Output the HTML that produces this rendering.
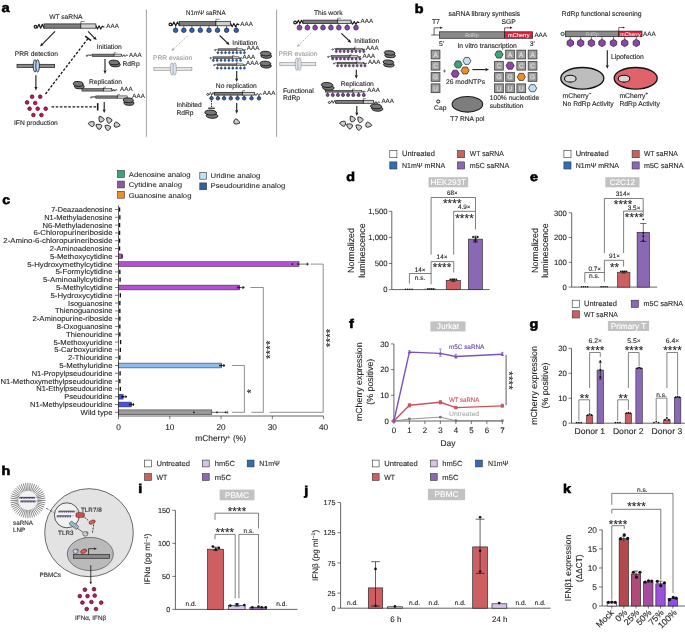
<!DOCTYPE html>
<html><head><meta charset="utf-8"><title>Figure</title>
<style>
html,body{margin:0;padding:0;background:#fff;}
svg{display:block;font-family:"Liberation Sans",sans-serif;text-rendering:geometricPrecision;}
</style></head><body>
<svg width="685" height="633" viewBox="0 0 685 633">
<rect width="685" height="633" fill="#ffffff"/>
<text transform="translate(1.50 12.30) scale(1.14 1)" font-size="13" font-weight="bold" fill="#000" stroke="#000" stroke-width="0.5">a</text>
<line x1="146.40" y1="9.50" x2="146.40" y2="136.80" stroke="#8a8a8a" stroke-width="0.8"/>
<line x1="276.60" y1="9.50" x2="276.60" y2="136.80" stroke="#8a8a8a" stroke-width="0.8"/>
<text x="65.80" y="18.60" font-size="6.7" text-anchor="middle" fill="#262626" stroke="#262626" stroke-width="0.11">WT saRNA</text>
<circle cx="35.50" cy="26.75" r="1.35" fill="#fff" stroke="#1a1a1a" stroke-width="1.15"/>
<path d="M37.25,27.90 L38.94,24.24 L40.62,28.20 L42.31,24.24 L44.00,27.90" fill="none" stroke="#1a1a1a" stroke-width="1.15" stroke-linejoin="round" stroke-linecap="round"/>
<path d="M95.90,25.65 L97.50,29.09 L99.10,25.82 L100.70,29.09 L102.30,26.17 L103.90,27.03" fill="none" stroke="#1a1a1a" stroke-width="1.15" stroke-linejoin="round" stroke-linecap="round"/>
<rect x="44.00" y="23.90" width="36.80" height="4.30" fill="#7d7d7d" stroke="#1a1a1a" stroke-width="0.7"/>
<rect x="80.80" y="23.90" width="15.10" height="4.30" fill="#cfcfcf" stroke="#1a1a1a" stroke-width="0.7"/>
<path d="M80.80,23.90 V21.53 H84.67" fill="none" stroke="#1a1a1a" stroke-width="0.5"/>
<text x="106.20" y="27.90" font-size="6.2" fill="#262626" stroke="#262626" stroke-width="0.11" letter-spacing="0.1">AAA</text>
<line x1="55.00" y1="31.40" x2="42.47" y2="44.02" stroke="#1a1a1a" stroke-width="1.1"/>
<polygon points="40.00,46.50 41.37,42.93 43.56,45.10" fill="#1a1a1a"/>
<line x1="88.00" y1="31.40" x2="94.21" y2="37.54" stroke="#1a1a1a" stroke-width="1.1"/>
<polygon points="96.70,40.00 93.13,38.63 95.29,36.44" fill="#1a1a1a"/>
<text x="36.40" y="55.90" font-size="6.7" text-anchor="middle" fill="#262626" stroke="#262626" stroke-width="0.11">PRR detection</text>
<rect x="17.00" y="64.30" width="37.70" height="3.10" fill="#8a8a8a" stroke="#1a1a1a" stroke-width="0.7"/>
<ellipse cx="35.00" cy="65.85" rx="1.8" ry="6.2" fill="#b5d4ee" stroke="#1a1a1a" stroke-width="0.8"/>
<ellipse cx="37.60" cy="65.85" rx="1.8" ry="6.2" fill="#b5d4ee" stroke="#1a1a1a" stroke-width="0.8"/>
<line x1="35.90" y1="75.30" x2="35.90" y2="87.10" stroke="#1a1a1a" stroke-width="1.1"/>
<polygon points="35.90,90.60 34.36,87.10 37.44,87.10" fill="#1a1a1a"/>
<circle cx="32.10" cy="96.70" r="1.85" fill="#c2185b" stroke="#4a0a24" stroke-width="0.7"/>
<circle cx="40.20" cy="96.70" r="1.85" fill="#c2185b" stroke="#4a0a24" stroke-width="0.7"/>
<circle cx="27.10" cy="102.40" r="1.85" fill="#c2185b" stroke="#4a0a24" stroke-width="0.7"/>
<circle cx="35.20" cy="103.00" r="1.85" fill="#c2185b" stroke="#4a0a24" stroke-width="0.7"/>
<circle cx="29.60" cy="108.70" r="1.85" fill="#c2185b" stroke="#4a0a24" stroke-width="0.7"/>
<circle cx="37.70" cy="108.70" r="1.85" fill="#c2185b" stroke="#4a0a24" stroke-width="0.7"/>
<circle cx="45.70" cy="108.70" r="1.85" fill="#c2185b" stroke="#4a0a24" stroke-width="0.7"/>
<circle cx="33.40" cy="115.00" r="1.85" fill="#c2185b" stroke="#4a0a24" stroke-width="0.7"/>
<circle cx="41.40" cy="115.00" r="1.85" fill="#c2185b" stroke="#4a0a24" stroke-width="0.7"/>
<text x="35.90" y="124.90" font-size="6.7" text-anchor="middle" fill="#262626" stroke="#262626" stroke-width="0.11">IFN production</text>
<line x1="45.50" y1="94.00" x2="88.10" y2="38.40" stroke="#1a1a1a" stroke-width="1.3" stroke-dasharray="2.6 1.6"/>
<line x1="91.04" y1="40.65" x2="85.16" y2="36.15" stroke="#1a1a1a" stroke-width="1.6"/>
<line x1="51.50" y1="106.80" x2="97.70" y2="106.80" stroke="#1a1a1a" stroke-width="1.3" stroke-dasharray="2.6 1.6"/>
<line x1="97.70" y1="110.50" x2="97.70" y2="103.10" stroke="#1a1a1a" stroke-width="1.6"/>
<text x="109.20" y="48.80" font-size="6.7" text-anchor="middle" fill="#262626" stroke="#262626" stroke-width="0.11">Initiation</text>
<circle cx="86.90" cy="55.70" r="0.7" fill="#fff" stroke="#1a1a1a" stroke-width="0.65"/>
<path d="M87.80,55.80 L88.90,54.50 L90.00,56.00 L91.10,54.50 L92.20,55.80" fill="none" stroke="#1a1a1a" stroke-width="0.7" stroke-linejoin="round" stroke-linecap="round"/>
<rect x="92.20" y="54.10" width="21.90" height="2.50" fill="#7d7d7d" stroke="#1a1a1a" stroke-width="0.55"/>
<rect x="114.10" y="54.10" width="7.30" height="2.50" fill="#cfcfcf" stroke="#1a1a1a" stroke-width="0.55"/>
<path d="M114.1,54.1 V52.7 H116.3" fill="none" stroke="#1a1a1a" stroke-width="0.45"/>
<path d="M121.40,54.60 L122.62,56.60 L123.84,54.70 L125.06,56.60 L126.28,54.90 L127.50,55.40" fill="none" stroke="#1a1a1a" stroke-width="0.75" stroke-linejoin="round" stroke-linecap="round"/>
<text x="129.00" y="56.90" font-size="6.2" fill="#262626" stroke="#262626" stroke-width="0.11" letter-spacing="0.1">AAA</text>
<line x1="105.00" y1="59.00" x2="105.00" y2="70.50" stroke="#1a1a1a" stroke-width="1.1"/>
<polygon points="105.00,74.00 103.46,70.50 106.54,70.50" fill="#1a1a1a"/>
<ellipse cx="115.10" cy="64.50" rx="5.1" ry="2.3" fill="#777777" stroke="#151515" stroke-width="0.9" transform="rotate(3 115.10 64.50)"/>
<ellipse cx="114.10" cy="62.50" rx="5.1" ry="2.3" fill="#777777" stroke="#151515" stroke-width="0.9" transform="rotate(3 114.10 62.50)"/>
<text x="122.50" y="66.40" font-size="6.7" fill="#262626" stroke="#262626" stroke-width="0.11">RdRp</text>
<text x="105.50" y="84.00" font-size="6.7" text-anchor="middle" fill="#262626" stroke="#262626" stroke-width="0.11">Replication</text>
<rect x="81.90" y="88.60" width="21.90" height="2.50" fill="#7d7d7d" stroke="#1a1a1a" stroke-width="0.55"/>
<rect x="103.80" y="88.60" width="8.00" height="2.50" fill="#cfcfcf" stroke="#1a1a1a" stroke-width="0.55"/>
<path d="M103.8,88.6 V87.2 H106" fill="none" stroke="#1a1a1a" stroke-width="0.45"/>
<path d="M111.80,89.20 L112.82,91.20 L113.84,89.30 L114.86,91.20 L115.88,89.50 L116.90,90.00" fill="none" stroke="#1a1a1a" stroke-width="0.75" stroke-linejoin="round" stroke-linecap="round"/>
<text x="120.10" y="90.90" font-size="6.2" fill="#262626" stroke="#262626" stroke-width="0.11" letter-spacing="0.1">AAA</text>
<ellipse cx="79.30" cy="86.40" rx="4.9" ry="2.4" fill="#777777" stroke="#151515" stroke-width="0.9" transform="rotate(3 79.30 86.40)"/>
<ellipse cx="78.20" cy="83.90" rx="4.9" ry="2.4" fill="#777777" stroke="#151515" stroke-width="0.9" transform="rotate(3 78.20 83.90)"/>
<circle cx="91.20" cy="97.40" r="0.7" fill="#fff" stroke="#1a1a1a" stroke-width="0.65"/>
<path d="M92.10,97.50 L93.02,96.20 L93.95,97.70 L94.88,96.20 L95.80,97.50" fill="none" stroke="#1a1a1a" stroke-width="0.7" stroke-linejoin="round" stroke-linecap="round"/>
<rect x="95.80" y="95.90" width="21.90" height="2.30" fill="#7d7d7d" stroke="#1a1a1a" stroke-width="0.55"/>
<rect x="117.70" y="95.90" width="9.50" height="2.30" fill="#cfcfcf" stroke="#1a1a1a" stroke-width="0.55"/>
<path d="M117.7,95.9 V94.5 H119.9" fill="none" stroke="#1a1a1a" stroke-width="0.45"/>
<text x="132.30" y="98.20" font-size="6.2" fill="#262626" stroke="#262626" stroke-width="0.11" letter-spacing="0.1">AAA</text>
<ellipse cx="128.90" cy="102.90" rx="5.0" ry="2.4" fill="#777777" stroke="#151515" stroke-width="0.9" transform="rotate(3 128.90 102.90)"/>
<ellipse cx="128.30" cy="100.30" rx="5.0" ry="2.4" fill="#777777" stroke="#151515" stroke-width="0.9" transform="rotate(3 128.30 100.30)"/>
<line x1="104.20" y1="102.00" x2="104.20" y2="109.60" stroke="#1a1a1a" stroke-width="1.1"/>
<polygon points="104.20,113.10 102.66,109.60 105.74,109.60" fill="#1a1a1a"/>
<path d="M-2.57,1.16 Q-4.68,0.00 -2.57,-1.16 L-1.17,-1.93 Q2.34,-3.86 2.34,0.00 L2.34,0.00 Q2.34,3.86 -1.17,1.93 Z" transform="translate(91.80 123.90) rotate(10)" fill="#cdcdcd" stroke="#1a1a1a" stroke-width="0.85" stroke-linejoin="round"/>
<path d="M-2.57,1.16 Q-4.68,0.00 -2.57,-1.16 L-1.17,-1.93 Q2.34,-3.86 2.34,0.00 L2.34,0.00 Q2.34,3.86 -1.17,1.93 Z" transform="translate(101.30 119.50) rotate(60)" fill="#cdcdcd" stroke="#1a1a1a" stroke-width="0.85" stroke-linejoin="round"/>
<path d="M-2.57,1.16 Q-4.68,0.00 -2.57,-1.16 L-1.17,-1.93 Q2.34,-3.86 2.34,0.00 L2.34,0.00 Q2.34,3.86 -1.17,1.93 Z" transform="translate(109.20 120.40) rotate(50)" fill="#cdcdcd" stroke="#1a1a1a" stroke-width="0.85" stroke-linejoin="round"/>
<path d="M-2.57,1.16 Q-4.68,0.00 -2.57,-1.16 L-1.17,-1.93 Q2.34,-3.86 2.34,0.00 L2.34,0.00 Q2.34,3.86 -1.17,1.93 Z" transform="translate(99.10 126.60) rotate(30)" fill="#cdcdcd" stroke="#1a1a1a" stroke-width="0.85" stroke-linejoin="round"/>
<path d="M-2.57,1.16 Q-4.68,0.00 -2.57,-1.16 L-1.17,-1.93 Q2.34,-3.86 2.34,0.00 L2.34,0.00 Q2.34,3.86 -1.17,1.93 Z" transform="translate(107.90 127.70) rotate(40)" fill="#cdcdcd" stroke="#1a1a1a" stroke-width="0.85" stroke-linejoin="round"/>
<path d="M-2.57,1.16 Q-4.68,0.00 -2.57,-1.16 L-1.17,-1.93 Q2.34,-3.86 2.34,0.00 L2.34,0.00 Q2.34,3.86 -1.17,1.93 Z" transform="translate(116.60 124.80) rotate(190)" fill="#cdcdcd" stroke="#1a1a1a" stroke-width="0.85" stroke-linejoin="round"/>
<text x="205.80" y="14.80" font-size="6.7" text-anchor="middle" fill="#262626" stroke="#262626" stroke-width="0.11" textLength="39.6" lengthAdjust="spacingAndGlyphs">N1mΨ saRNA</text>
<circle cx="170.40" cy="24.40" r="1.35" fill="#fff" stroke="#1a1a1a" stroke-width="1.15"/>
<path d="M172.15,25.50 L173.94,21.93 L175.73,25.80 L177.51,21.93 L179.30,25.50" fill="none" stroke="#1a1a1a" stroke-width="1.15" stroke-linejoin="round" stroke-linecap="round"/>
<path d="M230.50,23.30 L232.18,26.66 L233.86,23.47 L235.54,26.66 L237.22,23.80 L238.90,24.64" fill="none" stroke="#1a1a1a" stroke-width="1.15" stroke-linejoin="round" stroke-linecap="round"/>
<rect x="179.30" y="21.60" width="36.60" height="4.20" fill="#7d7d7d" stroke="#1a1a1a" stroke-width="0.7"/>
<rect x="215.90" y="21.60" width="14.60" height="4.20" fill="#cfcfcf" stroke="#1a1a1a" stroke-width="0.7"/>
<path d="M215.90,21.60 V19.29 H219.68" fill="none" stroke="#1a1a1a" stroke-width="0.5"/>
<text x="240.20" y="25.50" font-size="6.2" fill="#262626" stroke="#262626" stroke-width="0.11" letter-spacing="0.1">AAA</text>
<line x1="175.60" y1="25.80" x2="175.60" y2="30.30" stroke="#151515" stroke-width="0.6"/>
<circle cx="175.60" cy="30.30" r="2.3" fill="#2a63b2" stroke="#151515" stroke-width="0.6"/>
<line x1="183.80" y1="25.80" x2="183.80" y2="30.30" stroke="#151515" stroke-width="0.6"/>
<circle cx="183.80" cy="30.30" r="2.3" fill="#2a63b2" stroke="#151515" stroke-width="0.6"/>
<line x1="191.90" y1="25.80" x2="191.90" y2="30.30" stroke="#151515" stroke-width="0.6"/>
<circle cx="191.90" cy="30.30" r="2.3" fill="#2a63b2" stroke="#151515" stroke-width="0.6"/>
<line x1="200.30" y1="25.80" x2="200.30" y2="30.30" stroke="#151515" stroke-width="0.6"/>
<circle cx="200.30" cy="30.30" r="2.3" fill="#2a63b2" stroke="#151515" stroke-width="0.6"/>
<line x1="209.00" y1="25.80" x2="209.00" y2="30.30" stroke="#151515" stroke-width="0.6"/>
<circle cx="209.00" cy="30.30" r="2.3" fill="#2a63b2" stroke="#151515" stroke-width="0.6"/>
<line x1="217.50" y1="25.80" x2="217.50" y2="30.30" stroke="#151515" stroke-width="0.6"/>
<circle cx="217.50" cy="30.30" r="2.3" fill="#2a63b2" stroke="#151515" stroke-width="0.6"/>
<line x1="226.60" y1="25.80" x2="226.60" y2="30.30" stroke="#151515" stroke-width="0.6"/>
<circle cx="226.60" cy="30.30" r="2.3" fill="#2a63b2" stroke="#151515" stroke-width="0.6"/>
<line x1="236.30" y1="25.80" x2="236.30" y2="30.30" stroke="#151515" stroke-width="0.6"/>
<circle cx="236.30" cy="30.30" r="2.3" fill="#2a63b2" stroke="#151515" stroke-width="0.6"/>
<line x1="187.70" y1="35.80" x2="173.75" y2="48.73" stroke="#adadad" stroke-width="0.85" stroke-dasharray="2 1.4"/>
<polygon points="171.40,50.90 172.79,47.69 174.70,49.76" fill="#adadad"/>
<text x="172.60" y="59.80" font-size="6.7" text-anchor="middle" fill="#9c9c9c" stroke="#9c9c9c" stroke-width="0.1">PRR evasion</text>
<rect x="153.80" y="67.60" width="38.10" height="2.70" fill="#e6e6e6" stroke="#9a9a9a" stroke-width="0.7"/>
<ellipse cx="172.00" cy="68.95" rx="1.7" ry="6.3" fill="#dde5ee" stroke="#9a9a9a" stroke-width="0.7"/>
<ellipse cx="174.70" cy="68.95" rx="1.7" ry="6.3" fill="#dde5ee" stroke="#9a9a9a" stroke-width="0.7"/>
<line x1="219.60" y1="35.50" x2="227.08" y2="42.68" stroke="#1a1a1a" stroke-width="1.1"/>
<polygon points="229.60,45.10 226.01,43.79 228.14,41.57" fill="#1a1a1a"/>
<text x="244.80" y="45.10" font-size="6.7" text-anchor="middle" fill="#262626" stroke="#262626" stroke-width="0.11">Initiation</text>
<circle cx="215.20" cy="50.00" r="0.65" fill="#fff" stroke="#1a1a1a" stroke-width="0.6"/>
<path d="M215.90,50.10 L217.15,49.10 L218.40,50.10" fill="none" stroke="#1a1a1a" stroke-width="0.6" stroke-linejoin="round" stroke-linecap="round"/>
<path d="M242.60,49.30 L243.20,50.80 L243.80,49.38 L244.40,50.80 L245.00,49.52 L245.60,49.90" fill="none" stroke="#1a1a1a" stroke-width="0.65" stroke-linejoin="round" stroke-linecap="round"/>
<rect x="218.40" y="48.80" width="17.90" height="1.60" fill="#7d7d7d" stroke="#1a1a1a" stroke-width="0.5"/>
<rect x="236.30" y="48.80" width="6.30" height="1.60" fill="#cfcfcf" stroke="#1a1a1a" stroke-width="0.5"/>
<path d="M236.30,48.80 V47.60 H238.10" fill="none" stroke="#1a1a1a" stroke-width="0.4"/>
<line x1="217.90" y1="50.40" x2="217.90" y2="52.70" stroke="#1a1a1a" stroke-width="0.4"/>
<circle cx="217.90" cy="52.70" r="1.05" fill="#2a63b2" stroke="#151515" stroke-width="0.4"/>
<line x1="221.69" y1="50.40" x2="221.69" y2="52.70" stroke="#1a1a1a" stroke-width="0.4"/>
<circle cx="221.69" cy="52.70" r="1.05" fill="#2a63b2" stroke="#151515" stroke-width="0.4"/>
<line x1="225.47" y1="50.40" x2="225.47" y2="52.70" stroke="#1a1a1a" stroke-width="0.4"/>
<circle cx="225.47" cy="52.70" r="1.05" fill="#2a63b2" stroke="#151515" stroke-width="0.4"/>
<line x1="229.26" y1="50.40" x2="229.26" y2="52.70" stroke="#1a1a1a" stroke-width="0.4"/>
<circle cx="229.26" cy="52.70" r="1.05" fill="#2a63b2" stroke="#151515" stroke-width="0.4"/>
<line x1="233.04" y1="50.40" x2="233.04" y2="52.70" stroke="#1a1a1a" stroke-width="0.4"/>
<circle cx="233.04" cy="52.70" r="1.05" fill="#2a63b2" stroke="#151515" stroke-width="0.4"/>
<line x1="236.83" y1="50.40" x2="236.83" y2="52.70" stroke="#1a1a1a" stroke-width="0.4"/>
<circle cx="236.83" cy="52.70" r="1.05" fill="#2a63b2" stroke="#151515" stroke-width="0.4"/>
<line x1="240.61" y1="50.40" x2="240.61" y2="52.70" stroke="#1a1a1a" stroke-width="0.4"/>
<circle cx="240.61" cy="52.70" r="1.05" fill="#2a63b2" stroke="#151515" stroke-width="0.4"/>
<line x1="244.40" y1="50.40" x2="244.40" y2="52.70" stroke="#1a1a1a" stroke-width="0.4"/>
<circle cx="244.40" cy="52.70" r="1.05" fill="#2a63b2" stroke="#151515" stroke-width="0.4"/>
<text x="246.80" y="50.30" font-size="6.2" fill="#262626" stroke="#262626" stroke-width="0.11" letter-spacing="0.1">AAA</text>
<circle cx="210.50" cy="58.05" r="0.65" fill="#fff" stroke="#1a1a1a" stroke-width="0.6"/>
<path d="M211.20,58.15 L212.45,57.15 L213.70,58.15" fill="none" stroke="#1a1a1a" stroke-width="0.6" stroke-linejoin="round" stroke-linecap="round"/>
<path d="M238.90,57.35 L239.50,58.85 L240.10,57.43 L240.70,58.85 L241.30,57.58 L241.90,57.95" fill="none" stroke="#1a1a1a" stroke-width="0.65" stroke-linejoin="round" stroke-linecap="round"/>
<rect x="213.70" y="56.80" width="18.80" height="1.70" fill="#7d7d7d" stroke="#1a1a1a" stroke-width="0.5"/>
<rect x="232.50" y="56.80" width="6.40" height="1.70" fill="#cfcfcf" stroke="#1a1a1a" stroke-width="0.5"/>
<path d="M232.50,56.80 V55.60 H234.30" fill="none" stroke="#1a1a1a" stroke-width="0.4"/>
<line x1="213.30" y1="58.50" x2="213.30" y2="60.40" stroke="#1a1a1a" stroke-width="0.4"/>
<circle cx="213.30" cy="60.40" r="1.05" fill="#2a63b2" stroke="#151515" stroke-width="0.4"/>
<line x1="217.19" y1="58.50" x2="217.19" y2="60.40" stroke="#1a1a1a" stroke-width="0.4"/>
<circle cx="217.19" cy="60.40" r="1.05" fill="#2a63b2" stroke="#151515" stroke-width="0.4"/>
<line x1="221.07" y1="58.50" x2="221.07" y2="60.40" stroke="#1a1a1a" stroke-width="0.4"/>
<circle cx="221.07" cy="60.40" r="1.05" fill="#2a63b2" stroke="#151515" stroke-width="0.4"/>
<line x1="224.96" y1="58.50" x2="224.96" y2="60.40" stroke="#1a1a1a" stroke-width="0.4"/>
<circle cx="224.96" cy="60.40" r="1.05" fill="#2a63b2" stroke="#151515" stroke-width="0.4"/>
<line x1="228.84" y1="58.50" x2="228.84" y2="60.40" stroke="#1a1a1a" stroke-width="0.4"/>
<circle cx="228.84" cy="60.40" r="1.05" fill="#2a63b2" stroke="#151515" stroke-width="0.4"/>
<line x1="232.73" y1="58.50" x2="232.73" y2="60.40" stroke="#1a1a1a" stroke-width="0.4"/>
<circle cx="232.73" cy="60.40" r="1.05" fill="#2a63b2" stroke="#151515" stroke-width="0.4"/>
<line x1="236.61" y1="58.50" x2="236.61" y2="60.40" stroke="#1a1a1a" stroke-width="0.4"/>
<circle cx="236.61" cy="60.40" r="1.05" fill="#2a63b2" stroke="#151515" stroke-width="0.4"/>
<line x1="240.50" y1="58.50" x2="240.50" y2="60.40" stroke="#1a1a1a" stroke-width="0.4"/>
<circle cx="240.50" cy="60.40" r="1.05" fill="#2a63b2" stroke="#151515" stroke-width="0.4"/>
<text x="242.60" y="58.70" font-size="6.2" fill="#262626" stroke="#262626" stroke-width="0.11" letter-spacing="0.1">AAA</text>
<circle cx="214.20" cy="65.10" r="0.65" fill="#fff" stroke="#1a1a1a" stroke-width="0.6"/>
<path d="M214.90,65.20 L216.15,64.20 L217.40,65.20" fill="none" stroke="#1a1a1a" stroke-width="0.6" stroke-linejoin="round" stroke-linecap="round"/>
<path d="M243.10,64.40 L243.70,65.90 L244.30,64.48 L244.90,65.90 L245.50,64.62 L246.10,65.00" fill="none" stroke="#1a1a1a" stroke-width="0.65" stroke-linejoin="round" stroke-linecap="round"/>
<rect x="217.40" y="63.90" width="19.10" height="1.60" fill="#7d7d7d" stroke="#1a1a1a" stroke-width="0.5"/>
<rect x="236.50" y="63.90" width="6.60" height="1.60" fill="#cfcfcf" stroke="#1a1a1a" stroke-width="0.5"/>
<path d="M236.50,63.90 V62.70 H238.30" fill="none" stroke="#1a1a1a" stroke-width="0.4"/>
<line x1="217.40" y1="65.50" x2="217.40" y2="68.20" stroke="#1a1a1a" stroke-width="0.4"/>
<circle cx="217.40" cy="68.20" r="1.05" fill="#2a63b2" stroke="#151515" stroke-width="0.4"/>
<line x1="221.26" y1="65.50" x2="221.26" y2="68.20" stroke="#1a1a1a" stroke-width="0.4"/>
<circle cx="221.26" cy="68.20" r="1.05" fill="#2a63b2" stroke="#151515" stroke-width="0.4"/>
<line x1="225.11" y1="65.50" x2="225.11" y2="68.20" stroke="#1a1a1a" stroke-width="0.4"/>
<circle cx="225.11" cy="68.20" r="1.05" fill="#2a63b2" stroke="#151515" stroke-width="0.4"/>
<line x1="228.97" y1="65.50" x2="228.97" y2="68.20" stroke="#1a1a1a" stroke-width="0.4"/>
<circle cx="228.97" cy="68.20" r="1.05" fill="#2a63b2" stroke="#151515" stroke-width="0.4"/>
<line x1="232.83" y1="65.50" x2="232.83" y2="68.20" stroke="#1a1a1a" stroke-width="0.4"/>
<circle cx="232.83" cy="68.20" r="1.05" fill="#2a63b2" stroke="#151515" stroke-width="0.4"/>
<line x1="236.69" y1="65.50" x2="236.69" y2="68.20" stroke="#1a1a1a" stroke-width="0.4"/>
<circle cx="236.69" cy="68.20" r="1.05" fill="#2a63b2" stroke="#151515" stroke-width="0.4"/>
<line x1="240.54" y1="65.50" x2="240.54" y2="68.20" stroke="#1a1a1a" stroke-width="0.4"/>
<circle cx="240.54" cy="68.20" r="1.05" fill="#2a63b2" stroke="#151515" stroke-width="0.4"/>
<line x1="244.40" y1="65.50" x2="244.40" y2="68.20" stroke="#1a1a1a" stroke-width="0.4"/>
<circle cx="244.40" cy="68.20" r="1.05" fill="#2a63b2" stroke="#151515" stroke-width="0.4"/>
<text x="246.10" y="65.40" font-size="6.2" fill="#262626" stroke="#262626" stroke-width="0.11" letter-spacing="0.1">AAA</text>
<ellipse cx="266.20" cy="56.00" rx="5.4" ry="2.3" fill="#777777" stroke="#151515" stroke-width="0.9" transform="rotate(3 266.20 56.00)"/>
<ellipse cx="265.70" cy="53.60" rx="5.4" ry="2.3" fill="#777777" stroke="#151515" stroke-width="0.9" transform="rotate(3 265.70 53.60)"/>
<ellipse cx="266.00" cy="65.70" rx="5.4" ry="2.3" fill="#777777" stroke="#151515" stroke-width="0.9" transform="rotate(3 266.00 65.70)"/>
<ellipse cx="265.40" cy="63.50" rx="5.4" ry="2.3" fill="#777777" stroke="#151515" stroke-width="0.9" transform="rotate(3 265.40 63.50)"/>
<line x1="236.70" y1="71.10" x2="236.70" y2="78.50" stroke="#1a1a1a" stroke-width="1.1"/>
<polygon points="236.70,82.00 235.16,78.50 238.24,78.50" fill="#1a1a1a"/>
<text x="236.30" y="87.90" font-size="6.7" text-anchor="middle" fill="#262626" stroke="#262626" stroke-width="0.11">No replication</text>
<circle cx="207.70" cy="94.40" r="1.0" fill="#fff" stroke="#1a1a1a" stroke-width="0.75"/>
<path d="M209.10,94.80 L210.45,92.42 L211.80,95.10 L213.15,92.42 L214.50,94.80" fill="none" stroke="#1a1a1a" stroke-width="0.75" stroke-linejoin="round" stroke-linecap="round"/>
<path d="M254.50,93.30 L255.90,95.54 L257.30,93.41 L258.70,95.54 L260.10,93.64 L261.50,94.20" fill="none" stroke="#1a1a1a" stroke-width="0.75" stroke-linejoin="round" stroke-linecap="round"/>
<rect x="214.50" y="92.30" width="28.10" height="2.80" fill="#7d7d7d" stroke="#1a1a1a" stroke-width="0.7"/>
<rect x="242.60" y="92.30" width="11.90" height="2.80" fill="#cfcfcf" stroke="#1a1a1a" stroke-width="0.7"/>
<path d="M242.60,92.30 V90.70 H245.12" fill="none" stroke="#1a1a1a" stroke-width="0.5"/>
<text x="262.70" y="94.70" font-size="6.2" fill="#262626" stroke="#262626" stroke-width="0.11" letter-spacing="0.1">AAA</text>
<line x1="211.50" y1="95.10" x2="211.50" y2="98.30" stroke="#151515" stroke-width="0.6"/>
<circle cx="211.50" cy="98.30" r="1.8" fill="#2a63b2" stroke="#151515" stroke-width="0.6"/>
<line x1="217.90" y1="95.10" x2="217.90" y2="98.30" stroke="#151515" stroke-width="0.6"/>
<circle cx="217.90" cy="98.30" r="1.8" fill="#2a63b2" stroke="#151515" stroke-width="0.6"/>
<line x1="224.10" y1="95.10" x2="224.10" y2="98.30" stroke="#151515" stroke-width="0.6"/>
<circle cx="224.10" cy="98.30" r="1.8" fill="#2a63b2" stroke="#151515" stroke-width="0.6"/>
<line x1="230.80" y1="95.10" x2="230.80" y2="98.30" stroke="#151515" stroke-width="0.6"/>
<circle cx="230.80" cy="98.30" r="1.8" fill="#2a63b2" stroke="#151515" stroke-width="0.6"/>
<line x1="237.50" y1="95.10" x2="237.50" y2="98.30" stroke="#151515" stroke-width="0.6"/>
<circle cx="237.50" cy="98.30" r="1.8" fill="#2a63b2" stroke="#151515" stroke-width="0.6"/>
<line x1="244.20" y1="95.10" x2="244.20" y2="98.30" stroke="#151515" stroke-width="0.6"/>
<circle cx="244.20" cy="98.30" r="1.8" fill="#2a63b2" stroke="#151515" stroke-width="0.6"/>
<line x1="251.50" y1="95.10" x2="251.50" y2="98.30" stroke="#151515" stroke-width="0.6"/>
<circle cx="251.50" cy="98.30" r="1.8" fill="#2a63b2" stroke="#151515" stroke-width="0.6"/>
<line x1="259.00" y1="95.10" x2="259.00" y2="98.30" stroke="#151515" stroke-width="0.6"/>
<circle cx="259.00" cy="98.30" r="1.8" fill="#2a63b2" stroke="#151515" stroke-width="0.6"/>
<line x1="211.50" y1="100.60" x2="211.50" y2="108.20" stroke="#1a1a1a" stroke-width="0.9" stroke-dasharray="1.5 1"/>
<line x1="208.20" y1="108.20" x2="214.80" y2="108.20" stroke="#1a1a1a" stroke-width="1.2"/>
<text x="176.40" y="107.10" font-size="6.7" fill="#262626" stroke="#262626" stroke-width="0.11">Inhibited</text>
<text x="176.40" y="114.70" font-size="6.7" fill="#262626" stroke="#262626" stroke-width="0.11">RdRp</text>
<ellipse cx="212.00" cy="115.80" rx="5.9" ry="2.5" fill="#777777" stroke="#151515" stroke-width="0.9" transform="rotate(3 212.00 115.80)"/>
<ellipse cx="210.70" cy="112.60" rx="5.9" ry="2.5" fill="#777777" stroke="#151515" stroke-width="0.9" transform="rotate(3 210.70 112.60)"/>
<line x1="236.70" y1="102.90" x2="236.70" y2="110.30" stroke="#1a1a1a" stroke-width="1.1"/>
<polygon points="236.70,113.80 235.16,110.30 238.24,110.30" fill="#1a1a1a"/>
<path d="M-2.57,1.16 Q-4.68,0.00 -2.57,-1.16 L-1.17,-1.93 Q2.34,-3.86 2.34,0.00 L2.34,0.00 Q2.34,3.86 -1.17,1.93 Z" transform="translate(236.30 121.70) rotate(200)" fill="#cdcdcd" stroke="#1a1a1a" stroke-width="0.85" stroke-linejoin="round"/>
<text x="328.20" y="14.80" font-size="6.7" text-anchor="middle" fill="#262626" stroke="#262626" stroke-width="0.11">This work</text>
<circle cx="295.10" cy="22.55" r="1.35" fill="#fff" stroke="#1a1a1a" stroke-width="1.15"/>
<path d="M296.85,23.30 L298.39,20.32 L299.92,23.60 L301.46,20.32 L303.00,23.30" fill="none" stroke="#1a1a1a" stroke-width="1.15" stroke-linejoin="round" stroke-linecap="round"/>
<path d="M351.00,21.45 L352.60,24.25 L354.20,21.59 L355.80,24.25 L357.40,21.87 L359.00,22.57" fill="none" stroke="#1a1a1a" stroke-width="1.15" stroke-linejoin="round" stroke-linecap="round"/>
<rect x="303.00" y="20.10" width="34.60" height="3.50" fill="#7d7d7d" stroke="#1a1a1a" stroke-width="0.7"/>
<rect x="337.60" y="20.10" width="13.40" height="3.50" fill="#cfcfcf" stroke="#1a1a1a" stroke-width="0.7"/>
<path d="M337.60,20.10 V18.18 H340.75" fill="none" stroke="#1a1a1a" stroke-width="0.5"/>
<text x="360.50" y="23.30" font-size="6.2" fill="#262626" stroke="#262626" stroke-width="0.11" letter-spacing="0.1">AAA</text>
<line x1="299.50" y1="23.60" x2="299.50" y2="27.70" stroke="#151515" stroke-width="0.6"/>
<circle cx="299.50" cy="27.70" r="2.4" fill="#8e44ad" stroke="#151515" stroke-width="0.6"/>
<line x1="307.40" y1="23.60" x2="307.40" y2="27.70" stroke="#151515" stroke-width="0.6"/>
<circle cx="307.40" cy="27.70" r="2.4" fill="#8e44ad" stroke="#151515" stroke-width="0.6"/>
<line x1="315.10" y1="23.60" x2="315.10" y2="27.70" stroke="#151515" stroke-width="0.6"/>
<circle cx="315.10" cy="27.70" r="2.4" fill="#8e44ad" stroke="#151515" stroke-width="0.6"/>
<line x1="323.00" y1="23.60" x2="323.00" y2="27.70" stroke="#151515" stroke-width="0.6"/>
<circle cx="323.00" cy="27.70" r="2.4" fill="#8e44ad" stroke="#151515" stroke-width="0.6"/>
<line x1="330.90" y1="23.60" x2="330.90" y2="27.70" stroke="#151515" stroke-width="0.6"/>
<circle cx="330.90" cy="27.70" r="2.4" fill="#8e44ad" stroke="#151515" stroke-width="0.6"/>
<line x1="338.80" y1="23.60" x2="338.80" y2="27.70" stroke="#151515" stroke-width="0.6"/>
<circle cx="338.80" cy="27.70" r="2.4" fill="#8e44ad" stroke="#151515" stroke-width="0.6"/>
<line x1="347.20" y1="23.60" x2="347.20" y2="27.70" stroke="#151515" stroke-width="0.6"/>
<circle cx="347.20" cy="27.70" r="2.4" fill="#8e44ad" stroke="#151515" stroke-width="0.6"/>
<line x1="356.00" y1="23.60" x2="356.00" y2="27.70" stroke="#151515" stroke-width="0.6"/>
<circle cx="356.00" cy="27.70" r="2.4" fill="#8e44ad" stroke="#151515" stroke-width="0.6"/>
<line x1="311.30" y1="32.90" x2="299.19" y2="44.67" stroke="#adadad" stroke-width="0.85" stroke-dasharray="2 1.4"/>
<polygon points="296.90,46.90 298.21,43.66 300.18,45.68" fill="#adadad"/>
<text x="298.00" y="55.80" font-size="6.7" text-anchor="middle" fill="#9c9c9c" stroke="#9c9c9c" stroke-width="0.1">PRR evasion</text>
<rect x="279.80" y="62.50" width="35.90" height="3.20" fill="#e6e6e6" stroke="#9a9a9a" stroke-width="0.7"/>
<ellipse cx="296.90" cy="64.10" rx="1.7" ry="6.3" fill="#dde5ee" stroke="#9a9a9a" stroke-width="0.7"/>
<ellipse cx="299.50" cy="64.10" rx="1.7" ry="6.3" fill="#dde5ee" stroke="#9a9a9a" stroke-width="0.7"/>
<line x1="341.40" y1="33.30" x2="348.70" y2="40.45" stroke="#1a1a1a" stroke-width="1.1"/>
<polygon points="351.20,42.90 347.62,41.55 349.78,39.35" fill="#1a1a1a"/>
<text x="366.80" y="42.70" font-size="6.7" text-anchor="middle" fill="#262626" stroke="#262626" stroke-width="0.11">Initiation</text>
<circle cx="332.60" cy="49.45" r="0.65" fill="#fff" stroke="#1a1a1a" stroke-width="0.6"/>
<path d="M333.30,49.55 L334.55,48.55 L335.80,49.55" fill="none" stroke="#1a1a1a" stroke-width="0.6" stroke-linejoin="round" stroke-linecap="round"/>
<path d="M362.10,48.75 L362.70,50.25 L363.30,48.83 L363.90,50.25 L364.50,48.98 L365.10,49.35" fill="none" stroke="#1a1a1a" stroke-width="0.65" stroke-linejoin="round" stroke-linecap="round"/>
<rect x="335.80" y="48.20" width="18.70" height="1.70" fill="#7d7d7d" stroke="#1a1a1a" stroke-width="0.5"/>
<rect x="354.50" y="48.20" width="7.60" height="1.70" fill="#cfcfcf" stroke="#1a1a1a" stroke-width="0.5"/>
<path d="M354.50,48.20 V47.00 H356.30" fill="none" stroke="#1a1a1a" stroke-width="0.4"/>
<line x1="336.30" y1="49.90" x2="336.30" y2="51.50" stroke="#1a1a1a" stroke-width="0.4"/>
<circle cx="336.30" cy="51.50" r="1.15" fill="#8e44ad" stroke="#151515" stroke-width="0.4"/>
<line x1="340.23" y1="49.90" x2="340.23" y2="51.50" stroke="#1a1a1a" stroke-width="0.4"/>
<circle cx="340.23" cy="51.50" r="1.15" fill="#8e44ad" stroke="#151515" stroke-width="0.4"/>
<line x1="344.16" y1="49.90" x2="344.16" y2="51.50" stroke="#1a1a1a" stroke-width="0.4"/>
<circle cx="344.16" cy="51.50" r="1.15" fill="#8e44ad" stroke="#151515" stroke-width="0.4"/>
<line x1="348.09" y1="49.90" x2="348.09" y2="51.50" stroke="#1a1a1a" stroke-width="0.4"/>
<circle cx="348.09" cy="51.50" r="1.15" fill="#8e44ad" stroke="#151515" stroke-width="0.4"/>
<line x1="352.01" y1="49.90" x2="352.01" y2="51.50" stroke="#1a1a1a" stroke-width="0.4"/>
<circle cx="352.01" cy="51.50" r="1.15" fill="#8e44ad" stroke="#151515" stroke-width="0.4"/>
<line x1="355.94" y1="49.90" x2="355.94" y2="51.50" stroke="#1a1a1a" stroke-width="0.4"/>
<circle cx="355.94" cy="51.50" r="1.15" fill="#8e44ad" stroke="#151515" stroke-width="0.4"/>
<line x1="359.87" y1="49.90" x2="359.87" y2="51.50" stroke="#1a1a1a" stroke-width="0.4"/>
<circle cx="359.87" cy="51.50" r="1.15" fill="#8e44ad" stroke="#151515" stroke-width="0.4"/>
<line x1="363.80" y1="49.90" x2="363.80" y2="51.50" stroke="#1a1a1a" stroke-width="0.4"/>
<circle cx="363.80" cy="51.50" r="1.15" fill="#8e44ad" stroke="#151515" stroke-width="0.4"/>
<text x="366.10" y="49.80" font-size="6.2" fill="#262626" stroke="#262626" stroke-width="0.11" letter-spacing="0.1">AAA</text>
<circle cx="328.20" cy="56.80" r="0.65" fill="#fff" stroke="#1a1a1a" stroke-width="0.6"/>
<path d="M328.90,56.90 L330.15,55.90 L331.40,56.90" fill="none" stroke="#1a1a1a" stroke-width="0.6" stroke-linejoin="round" stroke-linecap="round"/>
<path d="M357.70,56.10 L358.30,57.60 L358.90,56.18 L359.50,57.60 L360.10,56.33 L360.70,56.70" fill="none" stroke="#1a1a1a" stroke-width="0.65" stroke-linejoin="round" stroke-linecap="round"/>
<rect x="331.40" y="55.50" width="18.60" height="1.80" fill="#7d7d7d" stroke="#1a1a1a" stroke-width="0.5"/>
<rect x="350.00" y="55.50" width="7.70" height="1.80" fill="#cfcfcf" stroke="#1a1a1a" stroke-width="0.5"/>
<path d="M350.00,55.50 V54.30 H351.80" fill="none" stroke="#1a1a1a" stroke-width="0.4"/>
<line x1="332.70" y1="57.30" x2="332.70" y2="58.90" stroke="#1a1a1a" stroke-width="0.4"/>
<circle cx="332.70" cy="58.90" r="1.15" fill="#8e44ad" stroke="#151515" stroke-width="0.4"/>
<line x1="336.60" y1="57.30" x2="336.60" y2="58.90" stroke="#1a1a1a" stroke-width="0.4"/>
<circle cx="336.60" cy="58.90" r="1.15" fill="#8e44ad" stroke="#151515" stroke-width="0.4"/>
<line x1="340.50" y1="57.30" x2="340.50" y2="58.90" stroke="#1a1a1a" stroke-width="0.4"/>
<circle cx="340.50" cy="58.90" r="1.15" fill="#8e44ad" stroke="#151515" stroke-width="0.4"/>
<line x1="344.40" y1="57.30" x2="344.40" y2="58.90" stroke="#1a1a1a" stroke-width="0.4"/>
<circle cx="344.40" cy="58.90" r="1.15" fill="#8e44ad" stroke="#151515" stroke-width="0.4"/>
<line x1="348.30" y1="57.30" x2="348.30" y2="58.90" stroke="#1a1a1a" stroke-width="0.4"/>
<circle cx="348.30" cy="58.90" r="1.15" fill="#8e44ad" stroke="#151515" stroke-width="0.4"/>
<line x1="352.20" y1="57.30" x2="352.20" y2="58.90" stroke="#1a1a1a" stroke-width="0.4"/>
<circle cx="352.20" cy="58.90" r="1.15" fill="#8e44ad" stroke="#151515" stroke-width="0.4"/>
<line x1="356.10" y1="57.30" x2="356.10" y2="58.90" stroke="#1a1a1a" stroke-width="0.4"/>
<circle cx="356.10" cy="58.90" r="1.15" fill="#8e44ad" stroke="#151515" stroke-width="0.4"/>
<line x1="360.00" y1="57.30" x2="360.00" y2="58.90" stroke="#1a1a1a" stroke-width="0.4"/>
<circle cx="360.00" cy="58.90" r="1.15" fill="#8e44ad" stroke="#151515" stroke-width="0.4"/>
<text x="362.60" y="57.90" font-size="6.2" fill="#262626" stroke="#262626" stroke-width="0.11" letter-spacing="0.1">AAA</text>
<circle cx="334.00" cy="63.45" r="0.65" fill="#fff" stroke="#1a1a1a" stroke-width="0.6"/>
<path d="M334.70,63.55 L335.95,62.55 L337.20,63.55" fill="none" stroke="#1a1a1a" stroke-width="0.6" stroke-linejoin="round" stroke-linecap="round"/>
<path d="M363.80,62.75 L364.40,64.25 L365.00,62.83 L365.60,64.25 L366.20,62.98 L366.80,63.35" fill="none" stroke="#1a1a1a" stroke-width="0.65" stroke-linejoin="round" stroke-linecap="round"/>
<rect x="337.20" y="62.20" width="19.20" height="1.70" fill="#7d7d7d" stroke="#1a1a1a" stroke-width="0.5"/>
<rect x="356.40" y="62.20" width="7.40" height="1.70" fill="#cfcfcf" stroke="#1a1a1a" stroke-width="0.5"/>
<path d="M356.40,62.20 V61.00 H358.20" fill="none" stroke="#1a1a1a" stroke-width="0.4"/>
<line x1="337.60" y1="63.90" x2="337.60" y2="65.80" stroke="#1a1a1a" stroke-width="0.4"/>
<circle cx="337.60" cy="65.80" r="1.15" fill="#8e44ad" stroke="#151515" stroke-width="0.4"/>
<line x1="341.51" y1="63.90" x2="341.51" y2="65.80" stroke="#1a1a1a" stroke-width="0.4"/>
<circle cx="341.51" cy="65.80" r="1.15" fill="#8e44ad" stroke="#151515" stroke-width="0.4"/>
<line x1="345.43" y1="63.90" x2="345.43" y2="65.80" stroke="#1a1a1a" stroke-width="0.4"/>
<circle cx="345.43" cy="65.80" r="1.15" fill="#8e44ad" stroke="#151515" stroke-width="0.4"/>
<line x1="349.34" y1="63.90" x2="349.34" y2="65.80" stroke="#1a1a1a" stroke-width="0.4"/>
<circle cx="349.34" cy="65.80" r="1.15" fill="#8e44ad" stroke="#151515" stroke-width="0.4"/>
<line x1="353.26" y1="63.90" x2="353.26" y2="65.80" stroke="#1a1a1a" stroke-width="0.4"/>
<circle cx="353.26" cy="65.80" r="1.15" fill="#8e44ad" stroke="#151515" stroke-width="0.4"/>
<line x1="357.17" y1="63.90" x2="357.17" y2="65.80" stroke="#1a1a1a" stroke-width="0.4"/>
<circle cx="357.17" cy="65.80" r="1.15" fill="#8e44ad" stroke="#151515" stroke-width="0.4"/>
<line x1="361.09" y1="63.90" x2="361.09" y2="65.80" stroke="#1a1a1a" stroke-width="0.4"/>
<circle cx="361.09" cy="65.80" r="1.15" fill="#8e44ad" stroke="#151515" stroke-width="0.4"/>
<line x1="365.00" y1="63.90" x2="365.00" y2="65.80" stroke="#1a1a1a" stroke-width="0.4"/>
<circle cx="365.00" cy="65.80" r="1.15" fill="#8e44ad" stroke="#151515" stroke-width="0.4"/>
<text x="367.90" y="63.80" font-size="6.2" fill="#262626" stroke="#262626" stroke-width="0.11" letter-spacing="0.1">AAA</text>
<ellipse cx="390.10" cy="55.50" rx="5.3" ry="2.2" fill="#777777" stroke="#151515" stroke-width="0.9" transform="rotate(3 390.10 55.50)"/>
<ellipse cx="389.60" cy="52.90" rx="5.3" ry="2.2" fill="#777777" stroke="#151515" stroke-width="0.9" transform="rotate(3 389.60 52.90)"/>
<ellipse cx="388.90" cy="64.80" rx="5.3" ry="2.2" fill="#777777" stroke="#151515" stroke-width="0.9" transform="rotate(3 388.90 64.80)"/>
<ellipse cx="388.40" cy="62.20" rx="5.3" ry="2.2" fill="#777777" stroke="#151515" stroke-width="0.9" transform="rotate(3 388.40 62.20)"/>
<line x1="356.30" y1="69.70" x2="356.30" y2="75.30" stroke="#1a1a1a" stroke-width="1.1"/>
<polygon points="356.30,78.80 354.76,75.30 357.84,75.30" fill="#1a1a1a"/>
<text x="357.30" y="86.30" font-size="6.7" text-anchor="middle" fill="#262626" stroke="#262626" stroke-width="0.11">Replication</text>
<ellipse cx="328.30" cy="87.70" rx="5.8" ry="2.5" fill="#777777" stroke="#151515" stroke-width="0.9" transform="rotate(3 328.30 87.70)"/>
<ellipse cx="327.10" cy="85.00" rx="5.8" ry="2.5" fill="#777777" stroke="#151515" stroke-width="0.9" transform="rotate(3 327.10 85.00)"/>
<rect x="325.30" y="90.30" width="27.20" height="1.80" fill="#7d7d7d" stroke="#1a1a1a" stroke-width="0.55"/>
<rect x="352.50" y="90.30" width="9.20" height="1.80" fill="#cfcfcf" stroke="#1a1a1a" stroke-width="0.55"/>
<path d="M352.5,90.3 V89 H354.6" fill="none" stroke="#1a1a1a" stroke-width="0.45"/>
<path d="M361.70,90.80 L362.40,92.30 L363.10,90.88 L363.80,92.30 L364.50,91.02 L365.20,91.40" fill="none" stroke="#1a1a1a" stroke-width="0.65" stroke-linejoin="round" stroke-linecap="round"/>
<text x="367.30" y="91.70" font-size="6.2" fill="#262626" stroke="#262626" stroke-width="0.11" letter-spacing="0.1">AAA</text>
<line x1="327.60" y1="92.10" x2="327.60" y2="95.00" stroke="#151515" stroke-width="0.6"/>
<circle cx="327.60" cy="95.00" r="1.55" fill="#8e44ad" stroke="#151515" stroke-width="0.6"/>
<line x1="332.80" y1="92.10" x2="332.80" y2="95.00" stroke="#151515" stroke-width="0.6"/>
<circle cx="332.80" cy="95.00" r="1.55" fill="#8e44ad" stroke="#151515" stroke-width="0.6"/>
<line x1="337.90" y1="92.10" x2="337.90" y2="95.00" stroke="#151515" stroke-width="0.6"/>
<circle cx="337.90" cy="95.00" r="1.55" fill="#8e44ad" stroke="#151515" stroke-width="0.6"/>
<line x1="343.00" y1="92.10" x2="343.00" y2="95.00" stroke="#151515" stroke-width="0.6"/>
<circle cx="343.00" cy="95.00" r="1.55" fill="#8e44ad" stroke="#151515" stroke-width="0.6"/>
<line x1="348.10" y1="92.10" x2="348.10" y2="95.00" stroke="#151515" stroke-width="0.6"/>
<circle cx="348.10" cy="95.00" r="1.55" fill="#8e44ad" stroke="#151515" stroke-width="0.6"/>
<line x1="353.30" y1="92.10" x2="353.30" y2="95.00" stroke="#151515" stroke-width="0.6"/>
<circle cx="353.30" cy="95.00" r="1.55" fill="#8e44ad" stroke="#151515" stroke-width="0.6"/>
<line x1="358.60" y1="92.10" x2="358.60" y2="95.00" stroke="#151515" stroke-width="0.6"/>
<circle cx="358.60" cy="95.00" r="1.55" fill="#8e44ad" stroke="#151515" stroke-width="0.6"/>
<line x1="363.80" y1="92.10" x2="363.80" y2="95.00" stroke="#151515" stroke-width="0.6"/>
<circle cx="363.80" cy="95.00" r="1.55" fill="#8e44ad" stroke="#151515" stroke-width="0.6"/>
<circle cx="329.30" cy="102.50" r="1.0" fill="#fff" stroke="#1a1a1a" stroke-width="0.75"/>
<path d="M330.70,103.00 L331.97,100.45 L333.25,103.30 L334.52,100.45 L335.80,103.00" fill="none" stroke="#1a1a1a" stroke-width="0.75" stroke-linejoin="round" stroke-linecap="round"/>
<path d="M373.50,101.40 L374.72,103.80 L375.94,101.52 L377.16,103.80 L378.38,101.76 L379.60,102.36" fill="none" stroke="#1a1a1a" stroke-width="0.75" stroke-linejoin="round" stroke-linecap="round"/>
<rect x="335.80" y="100.30" width="27.50" height="3.00" fill="#7d7d7d" stroke="#1a1a1a" stroke-width="0.7"/>
<rect x="363.30" y="100.30" width="10.20" height="3.00" fill="#cfcfcf" stroke="#1a1a1a" stroke-width="0.7"/>
<path d="M363.30,100.30 V98.65 H366.00" fill="none" stroke="#1a1a1a" stroke-width="0.5"/>
<text x="381.40" y="103.00" font-size="6.2" fill="#262626" stroke="#262626" stroke-width="0.11" letter-spacing="0.1">AAA</text>
<ellipse cx="377.30" cy="108.80" rx="5.6" ry="2.4" fill="#777777" stroke="#151515" stroke-width="0.9" transform="rotate(3 377.30 108.80)"/>
<ellipse cx="376.10" cy="106.40" rx="5.6" ry="2.4" fill="#777777" stroke="#151515" stroke-width="0.9" transform="rotate(3 376.10 106.40)"/>
<line x1="356.80" y1="106.10" x2="356.80" y2="112.50" stroke="#1a1a1a" stroke-width="1.1"/>
<polygon points="356.80,116.00 355.26,112.50 358.34,112.50" fill="#1a1a1a"/>
<text x="282.90" y="92.50" font-size="6.7" fill="#262626" stroke="#262626" stroke-width="0.11">Functional</text>
<text x="282.90" y="100.40" font-size="6.7" fill="#262626" stroke="#262626" stroke-width="0.11">RdRp</text>
<path d="M-2.57,1.16 Q-4.68,0.00 -2.57,-1.16 L-1.17,-1.93 Q2.34,-3.86 2.34,0.00 L2.34,0.00 Q2.34,3.86 -1.17,1.93 Z" transform="translate(343.20 123.60) rotate(10)" fill="#cdcdcd" stroke="#1a1a1a" stroke-width="0.85" stroke-linejoin="round"/>
<path d="M-2.57,1.16 Q-4.68,0.00 -2.57,-1.16 L-1.17,-1.93 Q2.34,-3.86 2.34,0.00 L2.34,0.00 Q2.34,3.86 -1.17,1.93 Z" transform="translate(352.50 119.20) rotate(60)" fill="#cdcdcd" stroke="#1a1a1a" stroke-width="0.85" stroke-linejoin="round"/>
<path d="M-2.57,1.16 Q-4.68,0.00 -2.57,-1.16 L-1.17,-1.93 Q2.34,-3.86 2.34,0.00 L2.34,0.00 Q2.34,3.86 -1.17,1.93 Z" transform="translate(360.30 119.90) rotate(50)" fill="#cdcdcd" stroke="#1a1a1a" stroke-width="0.85" stroke-linejoin="round"/>
<path d="M-2.57,1.16 Q-4.68,0.00 -2.57,-1.16 L-1.17,-1.93 Q2.34,-3.86 2.34,0.00 L2.34,0.00 Q2.34,3.86 -1.17,1.93 Z" transform="translate(349.80 126.20) rotate(30)" fill="#cdcdcd" stroke="#1a1a1a" stroke-width="0.85" stroke-linejoin="round"/>
<path d="M-2.57,1.16 Q-4.68,0.00 -2.57,-1.16 L-1.17,-1.93 Q2.34,-3.86 2.34,0.00 L2.34,0.00 Q2.34,3.86 -1.17,1.93 Z" transform="translate(358.90 127.40) rotate(40)" fill="#cdcdcd" stroke="#1a1a1a" stroke-width="0.85" stroke-linejoin="round"/>
<path d="M-2.57,1.16 Q-4.68,0.00 -2.57,-1.16 L-1.17,-1.93 Q2.34,-3.86 2.34,0.00 L2.34,0.00 Q2.34,3.86 -1.17,1.93 Z" transform="translate(368.20 124.80) rotate(190)" fill="#cdcdcd" stroke="#1a1a1a" stroke-width="0.85" stroke-linejoin="round"/>
<text transform="translate(414.80 12.60) scale(1.14 1)" font-size="12.6" font-weight="bold" fill="#000" stroke="#000" stroke-width="0.6">b</text>
<text x="484.40" y="16.00" font-size="6.8" text-anchor="middle" fill="#262626" stroke="#262626" stroke-width="0.11">saRNA library synthesis</text>
<text x="431.90" y="24.00" font-size="6.8" fill="#262626" stroke="#262626" stroke-width="0.11">T7</text>
<text x="508.60" y="24.00" font-size="6.8" text-anchor="middle" fill="#262626" stroke="#262626" stroke-width="0.11">SGP</text>
<line x1="431.20" y1="35.00" x2="439.60" y2="35.00" stroke="#222" stroke-width="0.7"/>
<rect x="439.60" y="31.80" width="65.00" height="6.50" fill="#8a8a8a" stroke="#222" stroke-width="0.7"/>
<rect x="504.60" y="31.80" width="28.00" height="6.50" fill="#e4203c" stroke="#222" stroke-width="0.7"/>
<path d="M434.1,35 V27.8 H440.5" fill="none" stroke="#222" stroke-width="0.7"/>
<polygon points="442.8,27.8 440.2,26.6 440.2,29" fill="#222"/>
<path d="M504.6,31.8 V27.8 H510.3" fill="none" stroke="#222" stroke-width="0.7"/>
<polygon points="512.6,27.8 510,26.6 510,29" fill="#222"/>
<text x="472.00" y="36.90" font-size="5.3" text-anchor="middle" fill="#d4d4d4">RdRp</text>
<text x="518.80" y="36.90" font-size="5.6" text-anchor="middle" fill="#ffffff" stroke="#ffffff" stroke-width="0.05">mCherry</text>
<text x="534.40" y="37.30" font-size="6.3" fill="#262626" stroke="#262626" stroke-width="0.11">AAA</text>
<text x="439.00" y="46.20" font-size="6.8" fill="#262626" stroke="#262626" stroke-width="0.11">5'</text>
<text x="529.80" y="46.20" font-size="6.8" fill="#262626" stroke="#262626" stroke-width="0.11">3'</text>
<text x="487.10" y="48.40" font-size="6.8" text-anchor="middle" fill="#262626" stroke="#262626" stroke-width="0.11">In vitro transcription</text>
<rect x="431.20" y="50.20" width="8.70" height="8.70" fill="#a0a0a0" stroke="#454545" stroke-width="0.9"/>
<text x="435.55" y="56.85" font-size="6.4" text-anchor="middle" fill="#d8d8d8" stroke="#d8d8d8" stroke-width="0.3">A</text>
<rect x="431.20" y="61.40" width="8.70" height="8.70" fill="#a0a0a0" stroke="#454545" stroke-width="0.9"/>
<text x="435.55" y="68.05" font-size="6.4" text-anchor="middle" fill="#d8d8d8" stroke="#d8d8d8" stroke-width="0.3">C</text>
<rect x="431.20" y="72.60" width="8.70" height="8.70" fill="#a0a0a0" stroke="#454545" stroke-width="0.9"/>
<text x="435.55" y="79.25" font-size="6.4" text-anchor="middle" fill="#d8d8d8" stroke="#d8d8d8" stroke-width="0.3">G</text>
<rect x="431.20" y="83.90" width="8.70" height="8.70" fill="#a0a0a0" stroke="#454545" stroke-width="0.9"/>
<text x="435.55" y="90.55" font-size="6.4" text-anchor="middle" fill="#d8d8d8" stroke="#d8d8d8" stroke-width="0.3">U</text>
<text x="444.60" y="72.60" font-size="6" text-anchor="middle" fill="#262626" stroke="#262626" stroke-width="0.11">+</text>
<polygon points="462.10,64.40 460.10,67.86 456.10,67.86 454.10,64.40 456.10,60.94 460.10,60.94" fill="#3aa57a" stroke="#222" stroke-width="0.7" stroke-linejoin="round"/>
<polygon points="470.90,60.90 468.90,64.36 464.90,64.36 462.90,60.90 464.90,57.44 468.90,57.44" fill="#bfe0f7" stroke="#222" stroke-width="0.7" stroke-linejoin="round"/>
<polygon points="459.20,73.70 457.20,77.16 453.20,77.16 451.20,73.70 453.20,70.24 457.20,70.24" fill="#8e44ad" stroke="#222" stroke-width="0.7" stroke-linejoin="round"/>
<polygon points="469.10,70.50 467.10,73.96 463.10,73.96 461.10,70.50 463.10,67.04 467.10,67.04" fill="#f28c28" stroke="#222" stroke-width="0.7" stroke-linejoin="round"/>
<line x1="472.40" y1="69.60" x2="485.50" y2="69.60" stroke="#1a1a1a" stroke-width="1.1"/>
<polygon points="489.00,69.60 485.50,71.14 485.50,68.06" fill="#1a1a1a"/>
<text x="465.50" y="84.00" font-size="6.7" text-anchor="middle" fill="#262626" stroke="#262626" stroke-width="0.11">26 modNTPs</text>
<polygon points="503.10,54.50 501.05,58.05 496.95,58.05 494.90,54.50 496.95,50.95 501.05,50.95" fill="#3aa57a" stroke="#222" stroke-width="0.7" stroke-linejoin="round"/>
<rect x="505.70" y="50.20" width="8.70" height="8.70" fill="#a0a0a0" stroke="#454545" stroke-width="0.9"/>
<text x="510.05" y="56.85" font-size="6.4" text-anchor="middle" fill="#d8d8d8" stroke="#d8d8d8" stroke-width="0.3">A</text>
<rect x="516.90" y="50.20" width="8.70" height="8.70" fill="#a0a0a0" stroke="#454545" stroke-width="0.9"/>
<text x="521.25" y="56.85" font-size="6.4" text-anchor="middle" fill="#d8d8d8" stroke="#d8d8d8" stroke-width="0.3">A</text>
<rect x="528.20" y="50.20" width="8.70" height="8.70" fill="#a0a0a0" stroke="#454545" stroke-width="0.9"/>
<text x="532.55" y="56.85" font-size="6.4" text-anchor="middle" fill="#d8d8d8" stroke="#d8d8d8" stroke-width="0.3">A</text>
<rect x="494.60" y="61.40" width="8.70" height="8.70" fill="#a0a0a0" stroke="#454545" stroke-width="0.9"/>
<text x="498.95" y="68.05" font-size="6.4" text-anchor="middle" fill="#d8d8d8" stroke="#d8d8d8" stroke-width="0.3">C</text>
<polygon points="514.20,65.70 512.15,69.25 508.05,69.25 506.00,65.70 508.05,62.15 512.15,62.15" fill="#8e44ad" stroke="#222" stroke-width="0.7" stroke-linejoin="round"/>
<rect x="516.90" y="61.40" width="8.70" height="8.70" fill="#a0a0a0" stroke="#454545" stroke-width="0.9"/>
<text x="521.25" y="68.05" font-size="6.4" text-anchor="middle" fill="#d8d8d8" stroke="#d8d8d8" stroke-width="0.3">C</text>
<rect x="528.20" y="61.40" width="8.70" height="8.70" fill="#a0a0a0" stroke="#454545" stroke-width="0.9"/>
<text x="532.55" y="68.05" font-size="6.4" text-anchor="middle" fill="#d8d8d8" stroke="#d8d8d8" stroke-width="0.3">C</text>
<rect x="494.60" y="72.60" width="8.70" height="8.70" fill="#a0a0a0" stroke="#454545" stroke-width="0.9"/>
<text x="498.95" y="79.25" font-size="6.4" text-anchor="middle" fill="#d8d8d8" stroke="#d8d8d8" stroke-width="0.3">G</text>
<rect x="505.70" y="72.60" width="8.70" height="8.70" fill="#a0a0a0" stroke="#454545" stroke-width="0.9"/>
<text x="510.05" y="79.25" font-size="6.4" text-anchor="middle" fill="#d8d8d8" stroke="#d8d8d8" stroke-width="0.3">G</text>
<polygon points="525.40,76.90 523.35,80.45 519.25,80.45 517.20,76.90 519.25,73.35 523.35,73.35" fill="#f28c28" stroke="#222" stroke-width="0.7" stroke-linejoin="round"/>
<rect x="528.20" y="72.60" width="8.70" height="8.70" fill="#a0a0a0" stroke="#454545" stroke-width="0.9"/>
<text x="532.55" y="79.25" font-size="6.4" text-anchor="middle" fill="#d8d8d8" stroke="#d8d8d8" stroke-width="0.3">G</text>
<rect x="494.60" y="83.90" width="8.70" height="8.70" fill="#a0a0a0" stroke="#454545" stroke-width="0.9"/>
<text x="498.95" y="90.55" font-size="6.4" text-anchor="middle" fill="#d8d8d8" stroke="#d8d8d8" stroke-width="0.3">U</text>
<rect x="505.70" y="83.90" width="8.70" height="8.70" fill="#a0a0a0" stroke="#454545" stroke-width="0.9"/>
<text x="510.05" y="90.55" font-size="6.4" text-anchor="middle" fill="#d8d8d8" stroke="#d8d8d8" stroke-width="0.3">U</text>
<rect x="516.90" y="83.90" width="8.70" height="8.70" fill="#a0a0a0" stroke="#454545" stroke-width="0.9"/>
<text x="521.25" y="90.55" font-size="6.4" text-anchor="middle" fill="#d8d8d8" stroke="#d8d8d8" stroke-width="0.3">U</text>
<polygon points="536.70,88.20 534.65,91.75 530.55,91.75 528.50,88.20 530.55,84.65 534.65,84.65" fill="#bfe0f7" stroke="#222" stroke-width="0.7" stroke-linejoin="round"/>
<text x="489.70" y="100.30" font-size="6.7" fill="#262626" stroke="#262626" stroke-width="0.11">100% nucleotide</text>
<text x="489.70" y="108.20" font-size="6.7" fill="#262626" stroke="#262626" stroke-width="0.11">substitution</text>
<circle cx="438.20" cy="101.50" r="1.55" fill="#fff" stroke="#1a1a1a" stroke-width="1.0"/>
<text x="434.10" y="110.00" font-size="6.7" fill="#262626" stroke="#262626" stroke-width="0.11">Cap</text>
<ellipse cx="467.40" cy="104.30" rx="15.3" ry="7.8" fill="#7d7d7d" stroke="#1a1a1a" stroke-width="1.1"/>
<text x="467.40" y="120.90" font-size="6.7" text-anchor="middle" fill="#262626" stroke="#262626" stroke-width="0.11">T7 RNA pol</text>
<text x="561.80" y="16.20" font-size="6.8" fill="#262626" stroke="#262626" stroke-width="0.11">RdRp functional screening</text>
<circle cx="562.60" cy="33.90" r="1.7" fill="#cfe6f7" stroke="#222" stroke-width="0.8"/>
<rect x="565.40" y="31.10" width="53.30" height="5.60" fill="#8a8a8a" stroke="#222" stroke-width="0.7"/>
<rect x="618.70" y="31.10" width="23.30" height="5.60" fill="#e4203c" stroke="#222" stroke-width="0.7"/>
<path d="M618.7,31.1 V27.5 H623" fill="none" stroke="#222" stroke-width="0.6"/>
<polygon points="625,27.5 622.8,26.5 622.8,28.5" fill="#222"/>
<text x="592.30" y="35.70" font-size="5.1" text-anchor="middle" fill="#d4d4d4">RdRp</text>
<text x="630.40" y="35.70" font-size="5.3" text-anchor="middle" fill="#ffffff" stroke="#ffffff" stroke-width="0.05">mCherry</text>
<text x="643.10" y="36.10" font-size="6.3" fill="#262626" stroke="#262626" stroke-width="0.11">AAA</text>
<line x1="570.30" y1="36.70" x2="570.30" y2="40.00" stroke="#222" stroke-width="0.6"/>
<polygon points="573.50,44.85 570.30,46.70 567.10,44.85 567.10,41.15 570.30,39.30 573.50,41.15" fill="#8e44ad" stroke="#222" stroke-width="0.7" stroke-linejoin="round"/>
<line x1="580.60" y1="36.70" x2="580.60" y2="40.00" stroke="#222" stroke-width="0.6"/>
<polygon points="583.80,44.85 580.60,46.70 577.40,44.85 577.40,41.15 580.60,39.30 583.80,41.15" fill="#8e44ad" stroke="#222" stroke-width="0.7" stroke-linejoin="round"/>
<line x1="591.40" y1="36.70" x2="591.40" y2="40.00" stroke="#222" stroke-width="0.6"/>
<polygon points="594.60,44.85 591.40,46.70 588.20,44.85 588.20,41.15 591.40,39.30 594.60,41.15" fill="#8e44ad" stroke="#222" stroke-width="0.7" stroke-linejoin="round"/>
<line x1="602.00" y1="36.70" x2="602.00" y2="40.00" stroke="#222" stroke-width="0.6"/>
<polygon points="605.20,44.85 602.00,46.70 598.80,44.85 598.80,41.15 602.00,39.30 605.20,41.15" fill="#8e44ad" stroke="#222" stroke-width="0.7" stroke-linejoin="round"/>
<line x1="613.50" y1="36.70" x2="613.50" y2="40.00" stroke="#222" stroke-width="0.6"/>
<polygon points="616.70,44.85 613.50,46.70 610.30,44.85 610.30,41.15 613.50,39.30 616.70,41.15" fill="#8e44ad" stroke="#222" stroke-width="0.7" stroke-linejoin="round"/>
<line x1="624.70" y1="36.70" x2="624.70" y2="40.00" stroke="#222" stroke-width="0.6"/>
<polygon points="627.90,44.85 624.70,46.70 621.50,44.85 621.50,41.15 624.70,39.30 627.90,41.15" fill="#8e44ad" stroke="#222" stroke-width="0.7" stroke-linejoin="round"/>
<line x1="636.30" y1="36.70" x2="636.30" y2="40.00" stroke="#222" stroke-width="0.6"/>
<polygon points="639.50,44.85 636.30,46.70 633.10,44.85 633.10,41.15 636.30,39.30 639.50,41.15" fill="#8e44ad" stroke="#222" stroke-width="0.7" stroke-linejoin="round"/>
<line x1="607.30" y1="50.20" x2="607.30" y2="65.30" stroke="#1a1a1a" stroke-width="1.1"/>
<polygon points="607.30,68.80 605.76,65.30 608.84,65.30" fill="#1a1a1a"/>
<text x="610.90" y="58.90" font-size="6.8" fill="#262626" stroke="#262626" stroke-width="0.11">Lipofection</text>
<ellipse cx="582.30" cy="78.30" rx="21.5" ry="10.8" fill="#bdbdbd" stroke="#111" stroke-width="1.3"/>
<ellipse cx="570.30" cy="78.70" rx="5.8" ry="3.4" fill="#d6d6d6" stroke="#111" stroke-width="1.1"/>
<ellipse cx="635.70" cy="78.30" rx="21.5" ry="10.8" fill="#e0636b" stroke="#111" stroke-width="1.3"/>
<ellipse cx="624.00" cy="78.70" rx="5.8" ry="3.4" fill="#d6d6d6" stroke="#111" stroke-width="1.1"/>
<text x="562.60" y="97.60" font-size="6.8" fill="#262626" stroke="#262626" stroke-width="0.11">mCherry<tspan dy="-2.5" font-size="4.5">−</tspan></text>
<text x="562.60" y="105.70" font-size="6.8" fill="#262626" stroke="#262626" stroke-width="0.11">No RdRp Activity</text>
<text x="619.40" y="97.60" font-size="6.8" fill="#262626" stroke="#262626" stroke-width="0.11">mCherry<tspan dy="-2.5" font-size="4.5">+</tspan></text>
<text x="619.40" y="105.70" font-size="6.8" fill="#262626" stroke="#262626" stroke-width="0.11">RdRp Activity</text>
<text transform="translate(2.20 204.20) scale(1.14 1)" font-size="12.4" font-weight="bold" fill="#000" stroke="#000" stroke-width="0.6">c</text>
<rect x="117.60" y="170.60" width="6.80" height="6.80" fill="#3aa57a" stroke="#333" stroke-width="0.6"/>
<text transform="translate(128.80 176.60) scale(1.12 1)" font-size="6.9" fill="#262626" stroke="#262626" stroke-width="0.08">Adenosine analog</text>
<rect x="117.60" y="181.10" width="6.80" height="6.80" fill="#8a5aa8" stroke="#333" stroke-width="0.6"/>
<text transform="translate(128.80 186.90) scale(1.12 1)" font-size="6.9" fill="#262626" stroke="#262626" stroke-width="0.08">Cytidine analog</text>
<rect x="117.60" y="191.40" width="6.80" height="6.80" fill="#f28c28" stroke="#333" stroke-width="0.6"/>
<text transform="translate(128.80 197.50) scale(1.12 1)" font-size="6.9" fill="#262626" stroke="#262626" stroke-width="0.08">Guanosine analog</text>
<rect x="199.80" y="172.40" width="6.80" height="6.80" fill="#bfe0f7" stroke="#333" stroke-width="0.6"/>
<text transform="translate(210.60 178.10) scale(1.12 1)" font-size="6.9" fill="#262626" stroke="#262626" stroke-width="0.08">Uridine analog</text>
<rect x="199.80" y="182.90" width="6.80" height="6.80" fill="#2f5fa8" stroke="#333" stroke-width="0.6"/>
<text transform="translate(210.60 188.30) scale(1.12 1)" font-size="6.9" fill="#262626" stroke="#262626" stroke-width="0.08">Pseudouridine analog</text>
<text x="112.50" y="212.05" font-size="7.2" text-anchor="end" fill="#262626" stroke="#262626" stroke-width="0.1" textLength="61.2" lengthAdjust="spacingAndGlyphs">7-Deazaadenosine</text>
<line x1="115.00" y1="209.50" x2="118.50" y2="209.50" stroke="#222" stroke-width="0.6"/>
<line x1="119.57" y1="207.40" x2="119.57" y2="211.60" stroke="#111" stroke-width="1.35"/>
<text x="112.50" y="219.85" font-size="7.2" text-anchor="end" fill="#262626" stroke="#262626" stroke-width="0.1" textLength="68.3" lengthAdjust="spacingAndGlyphs">N1-Methyladenosine</text>
<line x1="115.00" y1="217.30" x2="118.50" y2="217.30" stroke="#222" stroke-width="0.6"/>
<line x1="119.83" y1="215.20" x2="119.83" y2="219.40" stroke="#111" stroke-width="1.35"/>
<text x="112.50" y="227.65" font-size="7.2" text-anchor="end" fill="#262626" stroke="#262626" stroke-width="0.1" textLength="70.0" lengthAdjust="spacingAndGlyphs">N6-Methyladenosine</text>
<line x1="115.00" y1="225.10" x2="118.50" y2="225.10" stroke="#222" stroke-width="0.6"/>
<line x1="119.57" y1="223.00" x2="119.57" y2="227.20" stroke="#111" stroke-width="1.35"/>
<text x="112.50" y="235.45" font-size="7.2" text-anchor="end" fill="#262626" stroke="#262626" stroke-width="0.1" textLength="79.1" lengthAdjust="spacingAndGlyphs">6-Chloropurineriboside</text>
<line x1="115.00" y1="232.90" x2="118.50" y2="232.90" stroke="#222" stroke-width="0.6"/>
<line x1="119.57" y1="230.80" x2="119.57" y2="235.00" stroke="#111" stroke-width="1.35"/>
<text x="112.50" y="243.25" font-size="7.2" text-anchor="end" fill="#262626" stroke="#262626" stroke-width="0.1" textLength="109.2" lengthAdjust="spacingAndGlyphs">2-Amino-6-chloropurineriboside</text>
<line x1="115.00" y1="240.70" x2="118.50" y2="240.70" stroke="#222" stroke-width="0.6"/>
<line x1="119.57" y1="238.60" x2="119.57" y2="242.80" stroke="#111" stroke-width="1.35"/>
<text x="112.50" y="251.05" font-size="7.2" text-anchor="end" fill="#262626" stroke="#262626" stroke-width="0.1" textLength="62.7" lengthAdjust="spacingAndGlyphs">2-Aminoadenosine</text>
<line x1="115.00" y1="248.50" x2="118.50" y2="248.50" stroke="#222" stroke-width="0.6"/>
<line x1="119.57" y1="246.40" x2="119.57" y2="250.60" stroke="#111" stroke-width="1.35"/>
<text x="112.50" y="258.85" font-size="7.2" text-anchor="end" fill="#262626" stroke="#262626" stroke-width="0.1" textLength="62.5" lengthAdjust="spacingAndGlyphs">5-Methoxycytidine</text>
<line x1="115.00" y1="256.30" x2="118.50" y2="256.30" stroke="#222" stroke-width="0.6"/>
<rect x="118.50" y="253.90" width="3.08" height="4.80" fill="#b44fd6" stroke="#222" stroke-width="0.5"/>
<text x="112.50" y="266.65" font-size="7.2" text-anchor="end" fill="#262626" stroke="#262626" stroke-width="0.1" textLength="85.3" lengthAdjust="spacingAndGlyphs">5-Hydroxymethylcytidine</text>
<line x1="115.00" y1="264.10" x2="118.50" y2="264.10" stroke="#222" stroke-width="0.6"/>
<rect x="118.50" y="261.70" width="180.51" height="4.80" fill="#b44fd6" stroke="#222" stroke-width="0.5"/>
<text x="112.50" y="274.45" font-size="7.2" text-anchor="end" fill="#262626" stroke="#262626" stroke-width="0.1" textLength="57.0" lengthAdjust="spacingAndGlyphs">5-Formylcytidine</text>
<line x1="115.00" y1="271.90" x2="118.50" y2="271.90" stroke="#222" stroke-width="0.6"/>
<line x1="119.83" y1="269.80" x2="119.83" y2="274.00" stroke="#111" stroke-width="1.35"/>
<text x="112.50" y="282.25" font-size="7.2" text-anchor="end" fill="#262626" stroke="#262626" stroke-width="0.1" textLength="69.5" lengthAdjust="spacingAndGlyphs">5-Aminoallylcytidine</text>
<line x1="115.00" y1="279.70" x2="118.50" y2="279.70" stroke="#222" stroke-width="0.6"/>
<line x1="120.08" y1="277.60" x2="120.08" y2="281.80" stroke="#111" stroke-width="1.35"/>
<text x="112.50" y="290.05" font-size="7.2" text-anchor="end" fill="#262626" stroke="#262626" stroke-width="0.1" textLength="56.5" lengthAdjust="spacingAndGlyphs">5-Methylcytidine</text>
<line x1="115.00" y1="287.50" x2="118.50" y2="287.50" stroke="#222" stroke-width="0.6"/>
<rect x="118.50" y="285.10" width="121.02" height="4.80" fill="#b44fd6" stroke="#222" stroke-width="0.5"/>
<text x="112.50" y="297.85" font-size="7.2" text-anchor="end" fill="#262626" stroke="#262626" stroke-width="0.1" textLength="62.0" lengthAdjust="spacingAndGlyphs">5-Hydroxycytidine</text>
<line x1="115.00" y1="295.30" x2="118.50" y2="295.30" stroke="#222" stroke-width="0.6"/>
<line x1="120.34" y1="293.20" x2="120.34" y2="297.40" stroke="#111" stroke-width="1.35"/>
<text x="112.50" y="305.65" font-size="7.2" text-anchor="end" fill="#262626" stroke="#262626" stroke-width="0.1" textLength="44.4" lengthAdjust="spacingAndGlyphs">Isoguanosine</text>
<line x1="115.00" y1="303.10" x2="118.50" y2="303.10" stroke="#222" stroke-width="0.6"/>
<line x1="119.83" y1="301.00" x2="119.83" y2="305.20" stroke="#111" stroke-width="1.35"/>
<text x="112.50" y="313.45" font-size="7.2" text-anchor="end" fill="#262626" stroke="#262626" stroke-width="0.1" textLength="57.5" lengthAdjust="spacingAndGlyphs">Thienoguanosine</text>
<line x1="115.00" y1="310.90" x2="118.50" y2="310.90" stroke="#222" stroke-width="0.6"/>
<line x1="119.83" y1="308.80" x2="119.83" y2="313.00" stroke="#111" stroke-width="1.35"/>
<text x="112.50" y="321.25" font-size="7.2" text-anchor="end" fill="#262626" stroke="#262626" stroke-width="0.1" textLength="80.1" lengthAdjust="spacingAndGlyphs">2-Aminopurine-riboside</text>
<line x1="115.00" y1="318.70" x2="118.50" y2="318.70" stroke="#222" stroke-width="0.6"/>
<line x1="119.83" y1="316.60" x2="119.83" y2="320.80" stroke="#111" stroke-width="1.35"/>
<text x="112.50" y="329.05" font-size="7.2" text-anchor="end" fill="#262626" stroke="#262626" stroke-width="0.1" textLength="55.7" lengthAdjust="spacingAndGlyphs">8-Oxoguanosine</text>
<line x1="115.00" y1="326.50" x2="118.50" y2="326.50" stroke="#222" stroke-width="0.6"/>
<line x1="119.83" y1="324.40" x2="119.83" y2="328.60" stroke="#111" stroke-width="1.35"/>
<text x="112.50" y="336.85" font-size="7.2" text-anchor="end" fill="#262626" stroke="#262626" stroke-width="0.1" textLength="46.4" lengthAdjust="spacingAndGlyphs">Thienouridine</text>
<line x1="115.00" y1="334.30" x2="118.50" y2="334.30" stroke="#222" stroke-width="0.6"/>
<line x1="119.83" y1="332.20" x2="119.83" y2="336.40" stroke="#111" stroke-width="1.35"/>
<text x="112.50" y="344.65" font-size="7.2" text-anchor="end" fill="#262626" stroke="#262626" stroke-width="0.1" textLength="59.0" lengthAdjust="spacingAndGlyphs">5-Methoxyuridine</text>
<line x1="115.00" y1="342.10" x2="118.50" y2="342.10" stroke="#222" stroke-width="0.6"/>
<line x1="120.59" y1="340.00" x2="120.59" y2="344.20" stroke="#111" stroke-width="1.35"/>
<text x="112.50" y="352.45" font-size="7.2" text-anchor="end" fill="#262626" stroke="#262626" stroke-width="0.1" textLength="58.2" lengthAdjust="spacingAndGlyphs">5-Carboxyuridine</text>
<line x1="115.00" y1="349.90" x2="118.50" y2="349.90" stroke="#222" stroke-width="0.6"/>
<line x1="120.34" y1="347.80" x2="120.34" y2="352.00" stroke="#111" stroke-width="1.35"/>
<text x="112.50" y="360.25" font-size="7.2" text-anchor="end" fill="#262626" stroke="#262626" stroke-width="0.1" textLength="44.4" lengthAdjust="spacingAndGlyphs">2-Thiouridine</text>
<line x1="115.00" y1="357.70" x2="118.50" y2="357.70" stroke="#222" stroke-width="0.6"/>
<line x1="119.83" y1="355.60" x2="119.83" y2="359.80" stroke="#111" stroke-width="1.35"/>
<text x="112.50" y="368.05" font-size="7.2" text-anchor="end" fill="#262626" stroke="#262626" stroke-width="0.1" textLength="53.2" lengthAdjust="spacingAndGlyphs">5-Methyluridine</text>
<line x1="115.00" y1="365.50" x2="118.50" y2="365.50" stroke="#222" stroke-width="0.6"/>
<rect x="118.50" y="363.10" width="103.07" height="4.80" fill="#8cbcf2" stroke="#222" stroke-width="0.5"/>
<text x="112.50" y="375.85" font-size="7.2" text-anchor="end" fill="#262626" stroke="#262626" stroke-width="0.1" textLength="80.8" lengthAdjust="spacingAndGlyphs">N1-Propylpseudouridine</text>
<line x1="115.00" y1="373.30" x2="118.50" y2="373.30" stroke="#222" stroke-width="0.6"/>
<line x1="120.08" y1="371.20" x2="120.08" y2="375.40" stroke="#111" stroke-width="1.35"/>
<text x="112.50" y="383.65" font-size="7.2" text-anchor="end" fill="#262626" stroke="#262626" stroke-width="0.1" textLength="112.0" lengthAdjust="spacingAndGlyphs">N1-Methoxymethylpseudouridine</text>
<line x1="115.00" y1="381.10" x2="118.50" y2="381.10" stroke="#222" stroke-width="0.6"/>
<line x1="119.83" y1="379.00" x2="119.83" y2="383.20" stroke="#111" stroke-width="1.35"/>
<text x="112.50" y="391.45" font-size="7.2" text-anchor="end" fill="#262626" stroke="#262626" stroke-width="0.1" textLength="76.3" lengthAdjust="spacingAndGlyphs">N1-Ethylpseudouridine</text>
<line x1="115.00" y1="388.90" x2="118.50" y2="388.90" stroke="#222" stroke-width="0.6"/>
<line x1="120.34" y1="386.80" x2="120.34" y2="391.00" stroke="#111" stroke-width="1.35"/>
<text x="112.50" y="399.25" font-size="7.2" text-anchor="end" fill="#262626" stroke="#262626" stroke-width="0.1" textLength="48.2" lengthAdjust="spacingAndGlyphs">Pseudouridine</text>
<line x1="115.00" y1="396.70" x2="118.50" y2="396.70" stroke="#222" stroke-width="0.6"/>
<rect x="118.50" y="394.30" width="4.62" height="4.80" fill="#4a52e8" stroke="#222" stroke-width="0.5"/>
<text x="112.50" y="407.05" font-size="7.2" text-anchor="end" fill="#262626" stroke="#262626" stroke-width="0.1" textLength="82.6" lengthAdjust="spacingAndGlyphs">N1-Methylpseudouridine</text>
<line x1="115.00" y1="404.50" x2="118.50" y2="404.50" stroke="#222" stroke-width="0.6"/>
<rect x="118.50" y="402.10" width="12.82" height="4.80" fill="#4a52e8" stroke="#222" stroke-width="0.5"/>
<text x="112.50" y="414.85" font-size="7.2" text-anchor="end" fill="#262626" stroke="#262626" stroke-width="0.1" textLength="31.9" lengthAdjust="spacingAndGlyphs">Wild type</text>
<line x1="115.00" y1="412.30" x2="118.50" y2="412.30" stroke="#222" stroke-width="0.6"/>
<rect x="118.50" y="409.90" width="93.33" height="4.80" fill="#9a9a9a" stroke="#222" stroke-width="0.5"/>
<line x1="118.50" y1="205.50" x2="118.50" y2="416.00" stroke="#222" stroke-width="0.7"/>
<line x1="118.50" y1="416.00" x2="323.60" y2="416.00" stroke="#222" stroke-width="0.7"/>
<line x1="118.50" y1="416.00" x2="118.50" y2="419.20" stroke="#222" stroke-width="0.6"/>
<text x="118.50" y="430.30" font-size="8.3" text-anchor="middle" fill="#262626" stroke="#262626" stroke-width="0.11">0</text>
<line x1="169.78" y1="416.00" x2="169.78" y2="419.20" stroke="#222" stroke-width="0.6"/>
<text x="169.78" y="430.30" font-size="8.3" text-anchor="middle" fill="#262626" stroke="#262626" stroke-width="0.11">10</text>
<line x1="221.06" y1="416.00" x2="221.06" y2="419.20" stroke="#222" stroke-width="0.6"/>
<text x="221.06" y="430.30" font-size="8.3" text-anchor="middle" fill="#262626" stroke="#262626" stroke-width="0.11">20</text>
<line x1="272.34" y1="416.00" x2="272.34" y2="419.20" stroke="#222" stroke-width="0.6"/>
<text x="272.34" y="430.30" font-size="8.3" text-anchor="middle" fill="#262626" stroke="#262626" stroke-width="0.11">30</text>
<line x1="323.62" y1="416.00" x2="323.62" y2="419.20" stroke="#222" stroke-width="0.6"/>
<text x="323.62" y="430.30" font-size="8.3" text-anchor="middle" fill="#262626" stroke="#262626" stroke-width="0.11">40</text>
<text x="220.60" y="441.30" font-size="8.4" text-anchor="middle" fill="#262626" stroke="#262626" stroke-width="0.11">mCherry<tspan dy="-2.8" font-size="5.5">+</tspan><tspan dy="2.8"> (%)</tspan></text>
<line x1="299.01" y1="264.10" x2="307.21" y2="264.10" stroke="#111" stroke-width="0.6"/>
<line x1="307.21" y1="262.60" x2="307.21" y2="265.60" stroke="#111" stroke-width="0.6"/>
<circle cx="292.34" cy="264.10" r="0.9" fill="#111"/>
<circle cx="297.98" cy="264.10" r="0.9" fill="#111"/>
<circle cx="307.72" cy="264.10" r="0.9" fill="#111"/>
<line x1="239.52" y1="287.50" x2="242.60" y2="287.50" stroke="#111" stroke-width="0.6"/>
<line x1="242.60" y1="286.00" x2="242.60" y2="289.00" stroke="#111" stroke-width="0.6"/>
<circle cx="237.98" cy="287.50" r="0.9" fill="#111"/>
<circle cx="239.52" cy="287.50" r="0.9" fill="#111"/>
<circle cx="243.62" cy="287.50" r="0.9" fill="#111"/>
<line x1="221.57" y1="365.50" x2="223.62" y2="365.50" stroke="#111" stroke-width="0.6"/>
<line x1="223.62" y1="364.00" x2="223.62" y2="367.00" stroke="#111" stroke-width="0.6"/>
<circle cx="220.03" cy="365.50" r="0.9" fill="#111"/>
<circle cx="221.57" cy="365.50" r="0.9" fill="#111"/>
<circle cx="224.14" cy="365.50" r="0.9" fill="#111"/>
<line x1="123.12" y1="396.70" x2="125.17" y2="396.70" stroke="#111" stroke-width="0.6"/>
<line x1="125.17" y1="395.20" x2="125.17" y2="398.20" stroke="#111" stroke-width="0.6"/>
<circle cx="122.09" cy="396.70" r="0.9" fill="#111"/>
<circle cx="123.12" cy="396.70" r="0.9" fill="#111"/>
<circle cx="126.19" cy="396.70" r="0.9" fill="#111"/>
<line x1="131.32" y1="404.50" x2="133.37" y2="404.50" stroke="#111" stroke-width="0.6"/>
<line x1="133.37" y1="403.00" x2="133.37" y2="406.00" stroke="#111" stroke-width="0.6"/>
<circle cx="129.78" cy="404.50" r="0.9" fill="#111"/>
<circle cx="131.32" cy="404.50" r="0.9" fill="#111"/>
<circle cx="133.37" cy="404.50" r="0.9" fill="#111"/>
<line x1="211.83" y1="412.30" x2="227.73" y2="412.30" stroke="#111" stroke-width="0.6"/>
<line x1="227.73" y1="410.80" x2="227.73" y2="413.80" stroke="#111" stroke-width="0.6"/>
<circle cx="193.88" cy="412.30" r="0.9" fill="#111"/>
<circle cx="216.96" cy="412.30" r="0.9" fill="#111"/>
<circle cx="225.68" cy="412.30" r="0.9" fill="#111"/>
<line x1="122.18" y1="254.20" x2="122.18" y2="258.40" stroke="#111" stroke-width="1.2"/>
<path d="M310.5,264.10 H323.2 V412.30 H269.6" fill="none" stroke="#444" stroke-width="0.6"/>
<path d="M250.4,287.50 H263.3 V412.30 H251.5" fill="none" stroke="#444" stroke-width="0.6"/>
<path d="M232,365.50 H244.4 V412.30 H232" fill="none" stroke="#444" stroke-width="0.6"/>
<text x="334.19" y="337.80" font-size="11.5" text-anchor="middle" fill="#222" stroke="#222" stroke-width="0.1" transform="rotate(-90 334.19 337.80)" letter-spacing="0.2">****</text>
<text x="274.49" y="349.70" font-size="11.5" text-anchor="middle" fill="#222" stroke="#222" stroke-width="0.1" transform="rotate(-90 274.49 349.70)" letter-spacing="0.2">****</text>
<text x="255.39" y="391.10" font-size="11.5" text-anchor="middle" fill="#222" stroke="#222" stroke-width="0.1" transform="rotate(-90 255.39 391.10)" letter-spacing="0.2">*</text>
<text transform="translate(346.30 180.80) scale(1.14 1)" font-size="12.6" font-weight="bold" fill="#000" stroke="#000" stroke-width="0.6">d</text>
<rect x="389.80" y="150.60" width="7.10" height="7.10" fill="#fff" stroke="#333" stroke-width="0.6"/>
<text x="402.00" y="156.30" font-size="7.5" fill="#262626" stroke="#262626" stroke-width="0.11">Untreated</text>
<rect x="389.80" y="161.90" width="7.10" height="7.10" fill="#2f6db5" stroke="#333" stroke-width="0.6"/>
<text x="402.00" y="167.60" font-size="7.3" fill="#262626" stroke="#262626" stroke-width="0.11" textLength="43.2" lengthAdjust="spacingAndGlyphs">N1mΨ mRNA</text>
<rect x="457.50" y="150.60" width="7.10" height="7.10" fill="#cd5f63" stroke="#333" stroke-width="0.6"/>
<text x="469.80" y="156.30" font-size="7.3" fill="#262626" stroke="#262626" stroke-width="0.11" textLength="33.9" lengthAdjust="spacingAndGlyphs">WT saRNA</text>
<rect x="457.50" y="161.90" width="7.10" height="7.10" fill="#8b68b3" stroke="#333" stroke-width="0.6"/>
<text x="469.80" y="167.60" font-size="7.3" fill="#262626" stroke="#262626" stroke-width="0.11" textLength="39.4" lengthAdjust="spacingAndGlyphs">m5C saRNA</text>
<rect x="428.50" y="177.20" width="39.70" height="10.10" fill="#c2c2c2"/>
<text x="448.35" y="185.20" font-size="8.2" text-anchor="middle" fill="#ffffff" stroke="#ffffff" stroke-width="0.11">HEK293T</text>
<line x1="391.80" y1="211.30" x2="391.80" y2="289.60" stroke="#222" stroke-width="0.7"/>
<line x1="391.80" y1="289.60" x2="489.70" y2="289.60" stroke="#222" stroke-width="0.7"/>
<line x1="388.80" y1="289.60" x2="391.80" y2="289.60" stroke="#222" stroke-width="0.6"/>
<text x="387.60" y="292.40" font-size="7.7" text-anchor="end" fill="#262626" stroke="#262626" stroke-width="0.11">0</text>
<line x1="388.80" y1="263.50" x2="391.80" y2="263.50" stroke="#222" stroke-width="0.6"/>
<text x="387.60" y="266.30" font-size="7.7" text-anchor="end" fill="#262626" stroke="#262626" stroke-width="0.11">500</text>
<line x1="388.80" y1="237.40" x2="391.80" y2="237.40" stroke="#222" stroke-width="0.6"/>
<text x="387.60" y="240.20" font-size="7.7" text-anchor="end" fill="#262626" stroke="#262626" stroke-width="0.11">1,000</text>
<line x1="388.80" y1="211.30" x2="391.80" y2="211.30" stroke="#222" stroke-width="0.6"/>
<text x="387.60" y="214.10" font-size="7.7" text-anchor="end" fill="#262626" stroke="#262626" stroke-width="0.11">1,500</text>
<text x="354.40" y="250.50" font-size="8.9" text-anchor="middle" fill="#262626" stroke="#262626" stroke-width="0.11" transform="rotate(-90 354.40 250.50)">Normalized</text>
<text x="364.60" y="250.50" font-size="8.9" text-anchor="middle" fill="#262626" stroke="#262626" stroke-width="0.11" transform="rotate(-90 364.60 250.50)">luminescence</text>
<circle cx="405.50" cy="289.30" r="0.8" fill="#111"/>
<circle cx="407.70" cy="289.30" r="0.8" fill="#111"/>
<circle cx="409.90" cy="289.30" r="0.8" fill="#111"/>
<circle cx="412.10" cy="289.30" r="0.8" fill="#111"/>
<line x1="424.30" y1="289.10" x2="436.30" y2="289.10" stroke="#333" stroke-width="0.5"/>
<circle cx="427.95" cy="288.90" r="0.8" fill="#111"/>
<circle cx="429.85" cy="288.90" r="0.8" fill="#111"/>
<circle cx="431.75" cy="288.90" r="0.8" fill="#111"/>
<circle cx="433.65" cy="288.90" r="0.8" fill="#111"/>
<rect x="446.20" y="280.30" width="14.20" height="9.30" fill="#cd5f63" stroke="#222" stroke-width="0.6"/>
<rect x="468.30" y="239.10" width="14.20" height="50.50" fill="#8b68b3" stroke="#222" stroke-width="0.6"/>
<line x1="453.30" y1="279.00" x2="453.30" y2="281.60" stroke="#111" stroke-width="0.6"/>
<line x1="451.10" y1="279.00" x2="455.50" y2="279.00" stroke="#111" stroke-width="0.6"/>
<line x1="451.10" y1="281.60" x2="455.50" y2="281.60" stroke="#111" stroke-width="0.6"/>
<circle cx="450.30" cy="279.50" r="0.9" fill="#111"/>
<circle cx="452.30" cy="279.50" r="0.9" fill="#111"/>
<circle cx="454.30" cy="279.50" r="0.9" fill="#111"/>
<circle cx="456.30" cy="279.50" r="0.9" fill="#111"/>
<line x1="475.40" y1="237.30" x2="475.40" y2="240.90" stroke="#111" stroke-width="0.6"/>
<line x1="473.20" y1="237.30" x2="477.60" y2="237.30" stroke="#111" stroke-width="0.6"/>
<line x1="473.20" y1="240.90" x2="477.60" y2="240.90" stroke="#111" stroke-width="0.6"/>
<line x1="475.40" y1="236.20" x2="475.40" y2="242.20" stroke="#111" stroke-width="0.6"/>
<line x1="473.00" y1="236.20" x2="477.80" y2="236.20" stroke="#111" stroke-width="0.6"/>
<line x1="473.00" y1="242.20" x2="477.80" y2="242.20" stroke="#111" stroke-width="0.6"/>
<circle cx="473.00" cy="237.00" r="0.95" fill="#111"/>
<circle cx="477.80" cy="237.00" r="0.95" fill="#111"/>
<circle cx="475.40" cy="241.00" r="0.95" fill="#111"/>
<circle cx="475.70" cy="238.80" r="0.95" fill="#111"/>
<path d="M409.4,283.6 V273.5 H431.1" fill="none" stroke="#3a3a3a" stroke-width="0.65"/>
<path d="M431.1,284.4 V261.6 H453.7 V272.4" fill="none" stroke="#3a3a3a" stroke-width="0.65"/>
<path d="M431.1,254.7 V197.5 H475.5 V229.5" fill="none" stroke="#3a3a3a" stroke-width="0.65"/>
<path d="M453.7,254.7 V211.3 H475.5" fill="none" stroke="#3a3a3a" stroke-width="0.65"/>
<text x="420.20" y="271.60" font-size="6.4" text-anchor="middle" fill="#262626" stroke="#262626" stroke-width="0.11">14×</text>
<text x="420.00" y="279.60" font-size="6.6" text-anchor="middle" fill="#262626" stroke="#262626" stroke-width="0.11">n.s.</text>
<text x="442.00" y="259.00" font-size="6.4" text-anchor="middle" fill="#262626" stroke="#262626" stroke-width="0.11">14×</text>
<text x="442.10" y="271.19" font-size="11.5" text-anchor="middle" fill="#222" stroke="#222" stroke-width="0.1" letter-spacing="0.2">****</text>
<text x="452.40" y="195.20" font-size="6.4" text-anchor="middle" fill="#262626" stroke="#262626" stroke-width="0.11">68×</text>
<text x="452.30" y="207.49" font-size="11.5" text-anchor="middle" fill="#222" stroke="#222" stroke-width="0.1" letter-spacing="0.2">****</text>
<text x="464.30" y="209.00" font-size="6.4" text-anchor="middle" fill="#262626" stroke="#262626" stroke-width="0.11">4.9×</text>
<text x="464.50" y="222.19" font-size="11.5" text-anchor="middle" fill="#222" stroke="#222" stroke-width="0.1" letter-spacing="0.2">****</text>
<text transform="translate(530.00 181.00) scale(1.14 1)" font-size="12.6" font-weight="bold" fill="#000" stroke="#000" stroke-width="0.6">e</text>
<rect x="563.90" y="150.60" width="7.10" height="7.10" fill="#fff" stroke="#333" stroke-width="0.6"/>
<text x="575.70" y="156.30" font-size="7.5" fill="#262626" stroke="#262626" stroke-width="0.11">Untreated</text>
<rect x="563.90" y="161.90" width="7.10" height="7.10" fill="#2f6db5" stroke="#333" stroke-width="0.6"/>
<text x="575.70" y="167.60" font-size="7.3" fill="#262626" stroke="#262626" stroke-width="0.11" textLength="43.2" lengthAdjust="spacingAndGlyphs">N1mΨ mRNA</text>
<rect x="632.10" y="150.60" width="7.10" height="7.10" fill="#cd5f63" stroke="#333" stroke-width="0.6"/>
<text x="644.00" y="156.30" font-size="7.3" fill="#262626" stroke="#262626" stroke-width="0.11" textLength="33.9" lengthAdjust="spacingAndGlyphs">WT saRNA</text>
<rect x="632.10" y="161.90" width="7.10" height="7.10" fill="#8b68b3" stroke="#333" stroke-width="0.6"/>
<text x="644.00" y="167.60" font-size="7.3" fill="#262626" stroke="#262626" stroke-width="0.11" textLength="39.4" lengthAdjust="spacingAndGlyphs">m5C saRNA</text>
<rect x="605.30" y="177.20" width="34.20" height="10.10" fill="#c2c2c2"/>
<text x="622.40" y="185.20" font-size="8.2" text-anchor="middle" fill="#ffffff" stroke="#ffffff" stroke-width="0.11">C2C12</text>
<line x1="571.70" y1="212.80" x2="571.70" y2="287.10" stroke="#222" stroke-width="0.7"/>
<line x1="571.70" y1="287.10" x2="657.20" y2="287.10" stroke="#222" stroke-width="0.7"/>
<line x1="568.70" y1="287.10" x2="571.70" y2="287.10" stroke="#222" stroke-width="0.6"/>
<text x="566.90" y="289.90" font-size="7.7" text-anchor="end" fill="#262626" stroke="#262626" stroke-width="0.11">0</text>
<line x1="568.70" y1="262.33" x2="571.70" y2="262.33" stroke="#222" stroke-width="0.6"/>
<text x="566.90" y="265.13" font-size="7.7" text-anchor="end" fill="#262626" stroke="#262626" stroke-width="0.11">100</text>
<line x1="568.70" y1="237.56" x2="571.70" y2="237.56" stroke="#222" stroke-width="0.6"/>
<text x="566.90" y="240.36" font-size="7.7" text-anchor="end" fill="#262626" stroke="#262626" stroke-width="0.11">200</text>
<line x1="568.70" y1="212.79" x2="571.70" y2="212.79" stroke="#222" stroke-width="0.6"/>
<text x="566.90" y="215.59" font-size="7.7" text-anchor="end" fill="#262626" stroke="#262626" stroke-width="0.11">300</text>
<text x="537.60" y="250.50" font-size="8.9" text-anchor="middle" fill="#262626" stroke="#262626" stroke-width="0.11" transform="rotate(-90 537.60 250.50)">Normalized</text>
<text x="547.80" y="250.50" font-size="8.9" text-anchor="middle" fill="#262626" stroke="#262626" stroke-width="0.11" transform="rotate(-90 547.80 250.50)">luminescence</text>
<circle cx="581.60" cy="286.80" r="0.8" fill="#111"/>
<circle cx="583.60" cy="286.80" r="0.8" fill="#111"/>
<circle cx="585.60" cy="286.80" r="0.8" fill="#111"/>
<circle cx="587.60" cy="286.80" r="0.8" fill="#111"/>
<circle cx="601.10" cy="286.80" r="0.8" fill="#111"/>
<circle cx="603.10" cy="286.80" r="0.8" fill="#111"/>
<circle cx="605.10" cy="286.80" r="0.8" fill="#111"/>
<circle cx="607.10" cy="286.80" r="0.8" fill="#111"/>
<rect x="617.50" y="272.20" width="12.40" height="14.90" fill="#cd5f63" stroke="#222" stroke-width="0.6"/>
<rect x="637.10" y="232.30" width="12.40" height="54.80" fill="#8b68b3" stroke="#222" stroke-width="0.6"/>
<line x1="623.70" y1="271.30" x2="623.70" y2="273.10" stroke="#111" stroke-width="0.6"/>
<line x1="621.50" y1="271.30" x2="625.90" y2="271.30" stroke="#111" stroke-width="0.6"/>
<line x1="621.50" y1="273.10" x2="625.90" y2="273.10" stroke="#111" stroke-width="0.6"/>
<circle cx="620.85" cy="271.30" r="0.9" fill="#111"/>
<circle cx="622.75" cy="271.30" r="0.9" fill="#111"/>
<circle cx="624.65" cy="271.30" r="0.9" fill="#111"/>
<circle cx="626.55" cy="271.30" r="0.9" fill="#111"/>
<line x1="643.30" y1="223.50" x2="643.30" y2="241.50" stroke="#111" stroke-width="0.6"/>
<line x1="640.10" y1="223.50" x2="646.50" y2="223.50" stroke="#111" stroke-width="0.6"/>
<line x1="640.10" y1="241.50" x2="646.50" y2="241.50" stroke="#111" stroke-width="0.6"/>
<circle cx="643.30" cy="219.30" r="0.9" fill="#111"/>
<circle cx="643.30" cy="232.80" r="0.9" fill="#111"/>
<circle cx="643.30" cy="236.20" r="0.9" fill="#111"/>
<circle cx="643.30" cy="240.70" r="0.9" fill="#111"/>
<path d="M584.8,282.6 V272.5 H604.4" fill="none" stroke="#3a3a3a" stroke-width="0.65"/>
<path d="M604.4,281.8 V260.3 H623.6 V266.6" fill="none" stroke="#3a3a3a" stroke-width="0.65"/>
<path d="M604.4,253.1 V198.5 H643.2 V216.7" fill="none" stroke="#3a3a3a" stroke-width="0.65"/>
<path d="M623.6,253.1 V211.1 H643.2" fill="none" stroke="#3a3a3a" stroke-width="0.65"/>
<text x="594.80" y="270.80" font-size="6.4" text-anchor="middle" fill="#262626" stroke="#262626" stroke-width="0.11">0.7×</text>
<text x="594.40" y="277.90" font-size="6.6" text-anchor="middle" fill="#262626" stroke="#262626" stroke-width="0.11">n.s.</text>
<text x="614.50" y="257.60" font-size="6.4" text-anchor="middle" fill="#262626" stroke="#262626" stroke-width="0.11">91×</text>
<text x="614.60" y="271.09" font-size="11.5" text-anchor="middle" fill="#222" stroke="#222" stroke-width="0.1" letter-spacing="0.2">**</text>
<text x="623.00" y="196.40" font-size="6.4" text-anchor="middle" fill="#262626" stroke="#262626" stroke-width="0.11">314×</text>
<text x="623.10" y="208.29" font-size="11.5" text-anchor="middle" fill="#222" stroke="#222" stroke-width="0.1" letter-spacing="0.2">****</text>
<text x="634.10" y="209.60" font-size="6.4" text-anchor="middle" fill="#262626" stroke="#262626" stroke-width="0.11">3.5×</text>
<text x="634.20" y="220.89" font-size="11.5" text-anchor="middle" fill="#222" stroke="#222" stroke-width="0.1" letter-spacing="0.2">****</text>
<text transform="translate(349.00 328.20) scale(1.14 1)" font-size="12.6" font-weight="bold" fill="#000" stroke="#000" stroke-width="0.6">f</text>
<rect x="430.40" y="321.40" width="35.10" height="10.00" fill="#c2c2c2"/>
<text x="447.95" y="329.35" font-size="8.2" text-anchor="middle" fill="#ffffff" stroke="#ffffff" stroke-width="0.11">Jurkat</text>
<line x1="393.90" y1="344.00" x2="393.90" y2="421.00" stroke="#222" stroke-width="0.7"/>
<line x1="393.90" y1="421.00" x2="502.60" y2="421.00" stroke="#222" stroke-width="0.7"/>
<line x1="390.90" y1="421.00" x2="393.90" y2="421.00" stroke="#222" stroke-width="0.6"/>
<text x="388.90" y="423.80" font-size="7.8" text-anchor="end" fill="#262626" stroke="#262626" stroke-width="0.11">0</text>
<line x1="390.90" y1="395.30" x2="393.90" y2="395.30" stroke="#222" stroke-width="0.6"/>
<text x="388.90" y="398.10" font-size="7.8" text-anchor="end" fill="#262626" stroke="#262626" stroke-width="0.11">10</text>
<line x1="390.90" y1="369.60" x2="393.90" y2="369.60" stroke="#222" stroke-width="0.6"/>
<text x="388.90" y="372.40" font-size="7.8" text-anchor="end" fill="#262626" stroke="#262626" stroke-width="0.11">20</text>
<line x1="390.90" y1="343.90" x2="393.90" y2="343.90" stroke="#222" stroke-width="0.6"/>
<text x="388.90" y="346.70" font-size="7.8" text-anchor="end" fill="#262626" stroke="#262626" stroke-width="0.11">30</text>
<line x1="393.90" y1="421.00" x2="393.90" y2="424.00" stroke="#222" stroke-width="0.6"/>
<text x="393.90" y="432.70" font-size="7.9" text-anchor="middle" fill="#262626" stroke="#262626" stroke-width="0.11">0</text>
<line x1="409.39" y1="421.00" x2="409.39" y2="424.00" stroke="#222" stroke-width="0.6"/>
<text x="409.39" y="432.70" font-size="7.9" text-anchor="middle" fill="#262626" stroke="#262626" stroke-width="0.11">1</text>
<line x1="424.88" y1="421.00" x2="424.88" y2="424.00" stroke="#222" stroke-width="0.6"/>
<text x="424.88" y="432.70" font-size="7.9" text-anchor="middle" fill="#262626" stroke="#262626" stroke-width="0.11">2</text>
<line x1="440.37" y1="421.00" x2="440.37" y2="424.00" stroke="#222" stroke-width="0.6"/>
<text x="440.37" y="432.70" font-size="7.9" text-anchor="middle" fill="#262626" stroke="#262626" stroke-width="0.11">3</text>
<line x1="455.86" y1="421.00" x2="455.86" y2="424.00" stroke="#222" stroke-width="0.6"/>
<text x="455.86" y="432.70" font-size="7.9" text-anchor="middle" fill="#262626" stroke="#262626" stroke-width="0.11">4</text>
<line x1="471.35" y1="421.00" x2="471.35" y2="424.00" stroke="#222" stroke-width="0.6"/>
<text x="471.35" y="432.70" font-size="7.9" text-anchor="middle" fill="#262626" stroke="#262626" stroke-width="0.11">5</text>
<line x1="486.84" y1="421.00" x2="486.84" y2="424.00" stroke="#222" stroke-width="0.6"/>
<text x="486.84" y="432.70" font-size="7.9" text-anchor="middle" fill="#262626" stroke="#262626" stroke-width="0.11">6</text>
<line x1="502.33" y1="421.00" x2="502.33" y2="424.00" stroke="#222" stroke-width="0.6"/>
<text x="502.33" y="432.70" font-size="7.9" text-anchor="middle" fill="#262626" stroke="#262626" stroke-width="0.11">7</text>
<text x="447.90" y="446.30" font-size="8.4" text-anchor="middle" fill="#262626" stroke="#262626" stroke-width="0.11">Day</text>
<text x="362.20" y="381.70" font-size="8.8" text-anchor="middle" fill="#262626" stroke="#262626" stroke-width="0.11" transform="rotate(-90 362.20 381.70)">mCherry expression</text>
<text x="373.00" y="381.70" font-size="8.8" text-anchor="middle" fill="#262626" stroke="#262626" stroke-width="0.11" transform="rotate(-90 373.00 381.70)">(% positive)</text>
<path d="M393.90,421.00 L409.39,419.07 L440.37,417.14 L455.86,420.74 L502.33,420.74" fill="none" stroke="#7a7a7a" stroke-width="0.8" stroke-linejoin="round"/>
<circle cx="393.90" cy="421.00" r="1.45" fill="#7a7a7a"/>
<circle cx="409.39" cy="419.07" r="1.45" fill="#7a7a7a"/>
<circle cx="440.37" cy="417.14" r="1.45" fill="#7a7a7a"/>
<circle cx="455.86" cy="420.74" r="1.45" fill="#7a7a7a"/>
<circle cx="502.33" cy="420.74" r="1.45" fill="#7a7a7a"/>
<path d="M393.90,421.00 L409.39,405.32 L440.37,402.24 L455.86,407.64 L502.33,405.84" fill="none" stroke="#d0505c" stroke-width="1.4" stroke-linejoin="round"/>
<rect x="392.30" y="419.40" width="3.20" height="3.20" fill="#d0505c"/>
<rect x="407.79" y="403.72" width="3.20" height="3.20" fill="#d0505c"/>
<rect x="438.77" y="400.64" width="3.20" height="3.20" fill="#d0505c"/>
<rect x="454.26" y="406.04" width="3.20" height="3.20" fill="#d0505c"/>
<rect x="500.73" y="404.24" width="3.20" height="3.20" fill="#d0505c"/>
<path d="M393.90,421.00 L409.39,352.12 L440.37,353.41 L455.86,356.49 L502.33,354.18" fill="none" stroke="#7b52b9" stroke-width="1.4" stroke-linejoin="round"/>
<polygon points="393.90,419.20 392.20,422.30 395.60,422.30" fill="#7b52b9"/>
<polygon points="409.39,350.32 407.69,353.42 411.09,353.42" fill="#7b52b9"/>
<polygon points="440.37,351.61 438.67,354.71 442.07,354.71" fill="#7b52b9"/>
<polygon points="455.86,354.69 454.16,357.79 457.56,357.79" fill="#7b52b9"/>
<polygon points="502.33,352.38 500.63,355.48 504.03,355.48" fill="#7b52b9"/>
<line x1="440.37" y1="349.04" x2="440.37" y2="356.24" stroke="#7b52b9" stroke-width="0.6"/>
<line x1="438.97" y1="349.04" x2="441.77" y2="349.04" stroke="#7b52b9" stroke-width="0.6"/>
<line x1="438.97" y1="356.24" x2="441.77" y2="356.24" stroke="#7b52b9" stroke-width="0.6"/>
<line x1="455.86" y1="354.18" x2="455.86" y2="358.29" stroke="#7b52b9" stroke-width="0.6"/>
<line x1="454.46" y1="354.18" x2="457.26" y2="354.18" stroke="#7b52b9" stroke-width="0.6"/>
<line x1="454.46" y1="358.29" x2="457.26" y2="358.29" stroke="#7b52b9" stroke-width="0.6"/>
<line x1="502.33" y1="352.38" x2="502.33" y2="355.46" stroke="#7b52b9" stroke-width="0.6"/>
<line x1="500.93" y1="352.38" x2="503.73" y2="352.38" stroke="#7b52b9" stroke-width="0.6"/>
<line x1="500.93" y1="355.46" x2="503.73" y2="355.46" stroke="#7b52b9" stroke-width="0.6"/>
<line x1="409.39" y1="350.58" x2="409.39" y2="352.64" stroke="#7b52b9" stroke-width="0.6"/>
<line x1="407.99" y1="350.58" x2="410.79" y2="350.58" stroke="#7b52b9" stroke-width="0.6"/>
<line x1="407.99" y1="352.64" x2="410.79" y2="352.64" stroke="#7b52b9" stroke-width="0.6"/>
<line x1="440.37" y1="400.44" x2="440.37" y2="404.04" stroke="#d0505c" stroke-width="0.6"/>
<line x1="438.97" y1="400.44" x2="441.77" y2="400.44" stroke="#d0505c" stroke-width="0.6"/>
<line x1="438.97" y1="404.04" x2="441.77" y2="404.04" stroke="#d0505c" stroke-width="0.6"/>
<line x1="409.39" y1="403.52" x2="409.39" y2="407.12" stroke="#d0505c" stroke-width="0.6"/>
<line x1="407.99" y1="403.52" x2="410.79" y2="403.52" stroke="#d0505c" stroke-width="0.6"/>
<line x1="407.99" y1="407.12" x2="410.79" y2="407.12" stroke="#d0505c" stroke-width="0.6"/>
<line x1="502.33" y1="404.04" x2="502.33" y2="407.12" stroke="#d0505c" stroke-width="0.6"/>
<line x1="500.93" y1="404.04" x2="503.73" y2="404.04" stroke="#d0505c" stroke-width="0.6"/>
<line x1="500.93" y1="407.12" x2="503.73" y2="407.12" stroke="#d0505c" stroke-width="0.6"/>
<text x="449.00" y="348.70" font-size="6.4" fill="#6a42b0" stroke="#6a42b0" stroke-width="0.11" textLength="35.3" lengthAdjust="spacingAndGlyphs">m5C saRNA</text>
<text x="449.00" y="401.80" font-size="6.4" fill="#d0505c" stroke="#d0505c" stroke-width="0.11" textLength="30.3" lengthAdjust="spacingAndGlyphs">WT saRNA</text>
<text x="449.00" y="416.20" font-size="6.6" fill="#ababab" stroke="#ababab" stroke-width="0.08" textLength="30" lengthAdjust="spacingAndGlyphs">Untreated</text>
<line x1="506.10" y1="354.90" x2="506.10" y2="405.20" stroke="#333" stroke-width="0.8"/>
<text x="504.61" y="380.60" font-size="11.5" text-anchor="middle" fill="#222" stroke="#222" stroke-width="0.1" transform="rotate(90 504.61 380.60)" letter-spacing="0.2">****</text>
<text transform="translate(529.60 328.40) scale(1.14 1)" font-size="12.6" font-weight="bold" fill="#000" stroke="#000" stroke-width="0.6">g</text>
<rect x="572.20" y="300.20" width="7.20" height="7.20" fill="#fff" stroke="#333" stroke-width="0.6"/>
<text x="584.00" y="306.30" font-size="7.5" fill="#262626" stroke="#262626" stroke-width="0.11">Untreated</text>
<rect x="572.20" y="310.80" width="7.20" height="7.20" fill="#cd5f63" stroke="#333" stroke-width="0.6"/>
<text x="584.00" y="316.90" font-size="7.3" fill="#262626" stroke="#262626" stroke-width="0.11" textLength="33.9" lengthAdjust="spacingAndGlyphs">WT saRNA</text>
<rect x="631.20" y="300.20" width="7.20" height="7.20" fill="#8b68b3" stroke="#333" stroke-width="0.6"/>
<text x="643.60" y="306.30" font-size="7.3" fill="#262626" stroke="#262626" stroke-width="0.11" textLength="39.4" lengthAdjust="spacingAndGlyphs">m5C saRNA</text>
<rect x="607.90" y="320.90" width="41.20" height="10.10" fill="#c2c2c2"/>
<text x="628.50" y="328.90" font-size="8.2" text-anchor="middle" fill="#ffffff" stroke="#ffffff" stroke-width="0.11">Primary T</text>
<line x1="571.50" y1="348.30" x2="571.50" y2="423.20" stroke="#222" stroke-width="0.7"/>
<line x1="571.50" y1="423.20" x2="685.00" y2="423.20" stroke="#222" stroke-width="0.7"/>
<line x1="568.50" y1="423.20" x2="571.50" y2="423.20" stroke="#222" stroke-width="0.6"/>
<text x="566.90" y="426.00" font-size="7.8" text-anchor="end" fill="#262626" stroke="#262626" stroke-width="0.11">0</text>
<line x1="568.50" y1="398.23" x2="571.50" y2="398.23" stroke="#222" stroke-width="0.6"/>
<text x="566.90" y="401.03" font-size="7.8" text-anchor="end" fill="#262626" stroke="#262626" stroke-width="0.11">10</text>
<line x1="568.50" y1="373.26" x2="571.50" y2="373.26" stroke="#222" stroke-width="0.6"/>
<text x="566.90" y="376.06" font-size="7.8" text-anchor="end" fill="#262626" stroke="#262626" stroke-width="0.11">20</text>
<line x1="568.50" y1="348.29" x2="571.50" y2="348.29" stroke="#222" stroke-width="0.6"/>
<text x="566.90" y="351.09" font-size="7.8" text-anchor="end" fill="#262626" stroke="#262626" stroke-width="0.11">30</text>
<text x="537.40" y="385.50" font-size="8.8" text-anchor="middle" fill="#262626" stroke="#262626" stroke-width="0.11" transform="rotate(-90 537.40 385.50)">mCherry expression</text>
<text x="548.20" y="385.50" font-size="8.8" text-anchor="middle" fill="#262626" stroke="#262626" stroke-width="0.11" transform="rotate(-90 548.20 385.50)">(% positive)</text>
<circle cx="576.60" cy="422.50" r="0.85" fill="#111"/>
<circle cx="578.90" cy="422.50" r="0.85" fill="#111"/>
<circle cx="581.20" cy="422.50" r="0.85" fill="#111"/>
<rect x="586.40" y="415.71" width="6.40" height="7.49" fill="#cd5f63" stroke="#222" stroke-width="0.55"/>
<rect x="597.05" y="370.01" width="6.50" height="53.19" fill="#8b68b3" stroke="#222" stroke-width="0.55"/>
<line x1="600.30" y1="362.57" x2="600.30" y2="379.05" stroke="#111" stroke-width="0.6"/>
<line x1="598.70" y1="362.57" x2="601.90" y2="362.57" stroke="#111" stroke-width="0.6"/>
<line x1="598.70" y1="379.05" x2="601.90" y2="379.05" stroke="#111" stroke-width="0.6"/>
<circle cx="600.30" cy="361.30" r="1.0" fill="#111"/>
<circle cx="600.30" cy="370.00" r="1.0" fill="#111"/>
<circle cx="600.30" cy="377.00" r="1.0" fill="#111"/>
<circle cx="587.80" cy="415.31" r="0.95" fill="#111"/>
<circle cx="589.60" cy="414.11" r="0.95" fill="#111"/>
<circle cx="591.40" cy="415.01" r="0.95" fill="#111"/>
<text x="589.80" y="433.60" font-size="8.4" text-anchor="middle" fill="#262626" stroke="#262626" stroke-width="0.11" textLength="30.6" lengthAdjust="spacingAndGlyphs">Donor 1</text>
<path d="M578.90,420.6 V399.8 H589.60 V412.31" fill="none" stroke="#444" stroke-width="0.65"/>
<path d="M589.60,388 V352.5 H600.30 V356.90" fill="none" stroke="#444" stroke-width="0.65"/>
<text x="584.40" y="402.09" font-size="11.5" text-anchor="middle" fill="#222" stroke="#222" stroke-width="0.1" letter-spacing="0.2">**</text>
<text x="595.20" y="343.40" font-size="6.8" text-anchor="middle" fill="#262626" stroke="#262626" stroke-width="0.11">6.2×</text>
<text x="595.20" y="354.09" font-size="11.5" text-anchor="middle" fill="#222" stroke="#222" stroke-width="0.1" letter-spacing="0.2">****</text>
<circle cx="615.40" cy="422.50" r="0.85" fill="#111"/>
<circle cx="617.70" cy="422.50" r="0.85" fill="#111"/>
<circle cx="620.00" cy="422.50" r="0.85" fill="#111"/>
<rect x="625.20" y="413.46" width="6.40" height="9.74" fill="#cd5f63" stroke="#222" stroke-width="0.55"/>
<rect x="635.85" y="368.52" width="6.50" height="54.68" fill="#8b68b3" stroke="#222" stroke-width="0.55"/>
<circle cx="626.50" cy="413.16" r="0.95" fill="#111"/>
<circle cx="628.40" cy="412.66" r="0.95" fill="#111"/>
<circle cx="630.30" cy="413.16" r="0.95" fill="#111"/>
<circle cx="637.30" cy="368.22" r="0.95" fill="#111"/>
<circle cx="639.10" cy="367.62" r="0.95" fill="#111"/>
<circle cx="640.90" cy="368.22" r="0.95" fill="#111"/>
<text x="628.20" y="433.60" font-size="8.4" text-anchor="middle" fill="#262626" stroke="#262626" stroke-width="0.11" textLength="30.6" lengthAdjust="spacingAndGlyphs">Donor 2</text>
<path d="M617.70,420.6 V399.8 H628.40 V410.06" fill="none" stroke="#444" stroke-width="0.65"/>
<path d="M628.40,388 V352.5 H639.10 V366.20" fill="none" stroke="#444" stroke-width="0.65"/>
<text x="623.20" y="402.09" font-size="11.5" text-anchor="middle" fill="#222" stroke="#222" stroke-width="0.1" letter-spacing="0.2">**</text>
<text x="634.00" y="343.40" font-size="6.8" text-anchor="middle" fill="#262626" stroke="#262626" stroke-width="0.11">5.5×</text>
<text x="634.00" y="354.09" font-size="11.5" text-anchor="middle" fill="#222" stroke="#222" stroke-width="0.1" letter-spacing="0.2">****</text>
<circle cx="653.90" cy="422.50" r="0.85" fill="#111"/>
<circle cx="656.20" cy="421.60" r="0.85" fill="#111"/>
<circle cx="658.50" cy="422.50" r="0.85" fill="#111"/>
<rect x="663.70" y="419.95" width="6.40" height="3.25" fill="#cd5f63" stroke="#222" stroke-width="0.55"/>
<rect x="674.35" y="397.48" width="6.50" height="25.72" fill="#8b68b3" stroke="#222" stroke-width="0.55"/>
<circle cx="665.00" cy="419.65" r="0.95" fill="#111"/>
<circle cx="666.90" cy="418.05" r="0.95" fill="#111"/>
<circle cx="668.80" cy="419.65" r="0.95" fill="#111"/>
<circle cx="675.80" cy="397.18" r="0.95" fill="#111"/>
<circle cx="677.60" cy="396.58" r="0.95" fill="#111"/>
<circle cx="679.40" cy="397.18" r="0.95" fill="#111"/>
<text x="666.90" y="433.60" font-size="8.4" text-anchor="middle" fill="#262626" stroke="#262626" stroke-width="0.11" textLength="30.6" lengthAdjust="spacingAndGlyphs">Donor 3</text>
<path d="M656.20,420.6 V398.1 H666.90 V416.55" fill="none" stroke="#444" stroke-width="0.65"/>
<path d="M666.90,388 V352.5 H677.60 V395.20" fill="none" stroke="#444" stroke-width="0.65"/>
<text x="661.50" y="396.70" font-size="6.6" text-anchor="middle" fill="#262626" stroke="#262626" stroke-width="0.11">n.s.</text>
<text x="672.50" y="343.40" font-size="6.8" text-anchor="middle" fill="#262626" stroke="#262626" stroke-width="0.11">6.4×</text>
<text x="672.50" y="354.09" font-size="11.5" text-anchor="middle" fill="#222" stroke="#222" stroke-width="0.1" letter-spacing="0.2">****</text>
<text transform="translate(1.40 474.60) scale(1.14 1)" font-size="12.6" font-weight="bold" fill="#000" stroke="#000" stroke-width="0.6">h</text>
<circle cx="27.90" cy="500.40" r="9.6" fill="#f2f2f2"/>
<line x1="37.50" y1="500.40" x2="45.50" y2="500.40" stroke="#3a3a3a" stroke-width="0.6"/>
<line x1="37.42" y1="501.65" x2="45.35" y2="502.70" stroke="#3a3a3a" stroke-width="0.6"/>
<line x1="37.17" y1="502.88" x2="44.90" y2="504.96" stroke="#3a3a3a" stroke-width="0.6"/>
<line x1="36.77" y1="504.07" x2="44.16" y2="507.14" stroke="#3a3a3a" stroke-width="0.6"/>
<line x1="36.21" y1="505.20" x2="43.14" y2="509.20" stroke="#3a3a3a" stroke-width="0.6"/>
<line x1="35.52" y1="506.24" x2="41.86" y2="511.11" stroke="#3a3a3a" stroke-width="0.6"/>
<line x1="34.69" y1="507.19" x2="40.35" y2="512.85" stroke="#3a3a3a" stroke-width="0.6"/>
<line x1="33.74" y1="508.02" x2="38.61" y2="514.36" stroke="#3a3a3a" stroke-width="0.6"/>
<line x1="32.70" y1="508.71" x2="36.70" y2="515.64" stroke="#3a3a3a" stroke-width="0.6"/>
<line x1="31.57" y1="509.27" x2="34.64" y2="516.66" stroke="#3a3a3a" stroke-width="0.6"/>
<line x1="30.38" y1="509.67" x2="32.46" y2="517.40" stroke="#3a3a3a" stroke-width="0.6"/>
<line x1="29.15" y1="509.92" x2="30.20" y2="517.85" stroke="#3a3a3a" stroke-width="0.6"/>
<line x1="27.90" y1="510.00" x2="27.90" y2="518.00" stroke="#3a3a3a" stroke-width="0.6"/>
<line x1="26.65" y1="509.92" x2="25.60" y2="517.85" stroke="#3a3a3a" stroke-width="0.6"/>
<line x1="25.42" y1="509.67" x2="23.34" y2="517.40" stroke="#3a3a3a" stroke-width="0.6"/>
<line x1="24.23" y1="509.27" x2="21.16" y2="516.66" stroke="#3a3a3a" stroke-width="0.6"/>
<line x1="23.10" y1="508.71" x2="19.10" y2="515.64" stroke="#3a3a3a" stroke-width="0.6"/>
<line x1="22.06" y1="508.02" x2="17.19" y2="514.36" stroke="#3a3a3a" stroke-width="0.6"/>
<line x1="21.11" y1="507.19" x2="15.45" y2="512.85" stroke="#3a3a3a" stroke-width="0.6"/>
<line x1="20.28" y1="506.24" x2="13.94" y2="511.11" stroke="#3a3a3a" stroke-width="0.6"/>
<line x1="19.59" y1="505.20" x2="12.66" y2="509.20" stroke="#3a3a3a" stroke-width="0.6"/>
<line x1="19.03" y1="504.07" x2="11.64" y2="507.14" stroke="#3a3a3a" stroke-width="0.6"/>
<line x1="18.63" y1="502.88" x2="10.90" y2="504.96" stroke="#3a3a3a" stroke-width="0.6"/>
<line x1="18.38" y1="501.65" x2="10.45" y2="502.70" stroke="#3a3a3a" stroke-width="0.6"/>
<line x1="18.30" y1="500.40" x2="10.30" y2="500.40" stroke="#3a3a3a" stroke-width="0.6"/>
<line x1="18.38" y1="499.15" x2="10.45" y2="498.10" stroke="#3a3a3a" stroke-width="0.6"/>
<line x1="18.63" y1="497.92" x2="10.90" y2="495.84" stroke="#3a3a3a" stroke-width="0.6"/>
<line x1="19.03" y1="496.73" x2="11.64" y2="493.66" stroke="#3a3a3a" stroke-width="0.6"/>
<line x1="19.59" y1="495.60" x2="12.66" y2="491.60" stroke="#3a3a3a" stroke-width="0.6"/>
<line x1="20.28" y1="494.56" x2="13.94" y2="489.69" stroke="#3a3a3a" stroke-width="0.6"/>
<line x1="21.11" y1="493.61" x2="15.45" y2="487.95" stroke="#3a3a3a" stroke-width="0.6"/>
<line x1="22.06" y1="492.78" x2="17.19" y2="486.44" stroke="#3a3a3a" stroke-width="0.6"/>
<line x1="23.10" y1="492.09" x2="19.10" y2="485.16" stroke="#3a3a3a" stroke-width="0.6"/>
<line x1="24.23" y1="491.53" x2="21.16" y2="484.14" stroke="#3a3a3a" stroke-width="0.6"/>
<line x1="25.42" y1="491.13" x2="23.34" y2="483.40" stroke="#3a3a3a" stroke-width="0.6"/>
<line x1="26.65" y1="490.88" x2="25.60" y2="482.95" stroke="#3a3a3a" stroke-width="0.6"/>
<line x1="27.90" y1="490.80" x2="27.90" y2="482.80" stroke="#3a3a3a" stroke-width="0.6"/>
<line x1="29.15" y1="490.88" x2="30.20" y2="482.95" stroke="#3a3a3a" stroke-width="0.6"/>
<line x1="30.38" y1="491.13" x2="32.46" y2="483.40" stroke="#3a3a3a" stroke-width="0.6"/>
<line x1="31.57" y1="491.53" x2="34.64" y2="484.14" stroke="#3a3a3a" stroke-width="0.6"/>
<line x1="32.70" y1="492.09" x2="36.70" y2="485.16" stroke="#3a3a3a" stroke-width="0.6"/>
<line x1="33.74" y1="492.78" x2="38.61" y2="486.44" stroke="#3a3a3a" stroke-width="0.6"/>
<line x1="34.69" y1="493.61" x2="40.35" y2="487.95" stroke="#3a3a3a" stroke-width="0.6"/>
<line x1="35.52" y1="494.56" x2="41.86" y2="489.69" stroke="#3a3a3a" stroke-width="0.6"/>
<line x1="36.21" y1="495.60" x2="43.14" y2="491.60" stroke="#3a3a3a" stroke-width="0.6"/>
<line x1="36.77" y1="496.73" x2="44.16" y2="493.66" stroke="#3a3a3a" stroke-width="0.6"/>
<line x1="37.17" y1="497.92" x2="44.90" y2="495.84" stroke="#3a3a3a" stroke-width="0.6"/>
<line x1="37.42" y1="499.15" x2="45.35" y2="498.10" stroke="#3a3a3a" stroke-width="0.6"/>
<line x1="19.40" y1="497.40" x2="34.80" y2="497.40" stroke="#2a2a3a" stroke-width="0.9"/>
<line x1="34.80" y1="497.40" x2="41.00" y2="497.20" stroke="#555" stroke-width="0.35"/>
<line x1="19.90" y1="497.40" x2="19.90" y2="499.00" stroke="#3a2a6a" stroke-width="0.7"/>
<line x1="21.50" y1="497.40" x2="21.50" y2="499.00" stroke="#3a2a6a" stroke-width="0.7"/>
<line x1="23.10" y1="497.40" x2="23.10" y2="499.00" stroke="#3a2a6a" stroke-width="0.7"/>
<line x1="24.70" y1="497.40" x2="24.70" y2="499.00" stroke="#3a2a6a" stroke-width="0.7"/>
<line x1="26.30" y1="497.40" x2="26.30" y2="499.00" stroke="#3a2a6a" stroke-width="0.7"/>
<line x1="27.90" y1="497.40" x2="27.90" y2="499.00" stroke="#3a2a6a" stroke-width="0.7"/>
<line x1="29.50" y1="497.40" x2="29.50" y2="499.00" stroke="#3a2a6a" stroke-width="0.7"/>
<line x1="31.10" y1="497.40" x2="31.10" y2="499.00" stroke="#3a2a6a" stroke-width="0.7"/>
<line x1="32.70" y1="497.40" x2="32.70" y2="499.00" stroke="#3a2a6a" stroke-width="0.7"/>
<line x1="34.30" y1="497.40" x2="34.30" y2="499.00" stroke="#3a2a6a" stroke-width="0.7"/>
<line x1="20.50" y1="501.00" x2="35.40" y2="501.00" stroke="#2a2a3a" stroke-width="0.9"/>
<line x1="35.40" y1="501.00" x2="42.00" y2="500.80" stroke="#555" stroke-width="0.35"/>
<line x1="21.00" y1="501.00" x2="21.00" y2="502.60" stroke="#3a2a6a" stroke-width="0.7"/>
<line x1="22.54" y1="501.00" x2="22.54" y2="502.60" stroke="#3a2a6a" stroke-width="0.7"/>
<line x1="24.09" y1="501.00" x2="24.09" y2="502.60" stroke="#3a2a6a" stroke-width="0.7"/>
<line x1="25.63" y1="501.00" x2="25.63" y2="502.60" stroke="#3a2a6a" stroke-width="0.7"/>
<line x1="27.18" y1="501.00" x2="27.18" y2="502.60" stroke="#3a2a6a" stroke-width="0.7"/>
<line x1="28.72" y1="501.00" x2="28.72" y2="502.60" stroke="#3a2a6a" stroke-width="0.7"/>
<line x1="30.27" y1="501.00" x2="30.27" y2="502.60" stroke="#3a2a6a" stroke-width="0.7"/>
<line x1="31.81" y1="501.00" x2="31.81" y2="502.60" stroke="#3a2a6a" stroke-width="0.7"/>
<line x1="33.36" y1="501.00" x2="33.36" y2="502.60" stroke="#3a2a6a" stroke-width="0.7"/>
<line x1="34.90" y1="501.00" x2="34.90" y2="502.60" stroke="#3a2a6a" stroke-width="0.7"/>
<text x="13.00" y="524.70" font-size="6.3" fill="#2a2a2a" stroke="#2a2a2a" stroke-width="0.12">saRNA</text>
<text x="13.00" y="531.90" font-size="6.3" fill="#2a2a2a" stroke="#2a2a2a" stroke-width="0.12">LNP</text>
<ellipse cx="89.00" cy="532.70" rx="44.3" ry="44" fill="#e3e3e3" stroke="#5a5a5a" stroke-width="0.9"/>
<circle cx="66.90" cy="515.30" r="12.5" fill="#f1f1f1" stroke="#444" stroke-width="0.9"/>
<line x1="58.50" y1="511.20" x2="74.50" y2="511.20" stroke="#2a2a3a" stroke-width="0.9"/>
<line x1="74.50" y1="511.20" x2="77.50" y2="511.00" stroke="#555" stroke-width="0.35"/>
<line x1="59.00" y1="511.20" x2="59.00" y2="512.80" stroke="#3a2a6a" stroke-width="0.7"/>
<line x1="60.88" y1="511.20" x2="60.88" y2="512.80" stroke="#3a2a6a" stroke-width="0.7"/>
<line x1="62.75" y1="511.20" x2="62.75" y2="512.80" stroke="#3a2a6a" stroke-width="0.7"/>
<line x1="64.62" y1="511.20" x2="64.62" y2="512.80" stroke="#3a2a6a" stroke-width="0.7"/>
<line x1="66.50" y1="511.20" x2="66.50" y2="512.80" stroke="#3a2a6a" stroke-width="0.7"/>
<line x1="68.38" y1="511.20" x2="68.38" y2="512.80" stroke="#3a2a6a" stroke-width="0.7"/>
<line x1="70.25" y1="511.20" x2="70.25" y2="512.80" stroke="#3a2a6a" stroke-width="0.7"/>
<line x1="72.12" y1="511.20" x2="72.12" y2="512.80" stroke="#3a2a6a" stroke-width="0.7"/>
<line x1="74.00" y1="511.20" x2="74.00" y2="512.80" stroke="#3a2a6a" stroke-width="0.7"/>
<line x1="56.80" y1="515.90" x2="71.00" y2="515.90" stroke="#2a2a3a" stroke-width="0.9"/>
<line x1="71.00" y1="515.90" x2="74.00" y2="515.70" stroke="#555" stroke-width="0.35"/>
<line x1="57.30" y1="515.90" x2="57.30" y2="517.50" stroke="#3a2a6a" stroke-width="0.7"/>
<line x1="58.95" y1="515.90" x2="58.95" y2="517.50" stroke="#3a2a6a" stroke-width="0.7"/>
<line x1="60.60" y1="515.90" x2="60.60" y2="517.50" stroke="#3a2a6a" stroke-width="0.7"/>
<line x1="62.25" y1="515.90" x2="62.25" y2="517.50" stroke="#3a2a6a" stroke-width="0.7"/>
<line x1="63.90" y1="515.90" x2="63.90" y2="517.50" stroke="#3a2a6a" stroke-width="0.7"/>
<line x1="65.55" y1="515.90" x2="65.55" y2="517.50" stroke="#3a2a6a" stroke-width="0.7"/>
<line x1="67.20" y1="515.90" x2="67.20" y2="517.50" stroke="#3a2a6a" stroke-width="0.7"/>
<line x1="68.85" y1="515.90" x2="68.85" y2="517.50" stroke="#3a2a6a" stroke-width="0.7"/>
<line x1="70.50" y1="515.90" x2="70.50" y2="517.50" stroke="#3a2a6a" stroke-width="0.7"/>
<line x1="45.90" y1="508.20" x2="54.20" y2="512.60" stroke="#333" stroke-width="0.7" stroke-dasharray="3 1.2"/>
<rect x="76.00" y="512.80" width="8.30" height="4.50" fill="#e05a5a" stroke="#5a1512" stroke-width="0.65" rx="1.1"/>
<line x1="76.60" y1="515.05" x2="83.70" y2="515.05" stroke="#7a1a14" stroke-width="0.45"/>
<text x="81.00" y="511.90" font-size="6.3" fill="#2a2a2a" stroke="#2a2a2a" stroke-width="0.12">TLR7/8</text>
<g transform="rotate(36 73.9 525.2)"><rect x="69.2" y="523.3" width="9.4" height="3.8" rx="1.2" fill="#b9d6ee" stroke="#333" stroke-width="0.6"/><line x1="70.2" y1="524.6" x2="77.6" y2="524.6" stroke="#4a5a6a" stroke-width="0.4"/><line x1="70.2" y1="525.9" x2="77.6" y2="525.9" stroke="#4a5a6a" stroke-width="0.4"/></g>
<text x="58.10" y="535.40" font-size="6.3" fill="#2a2a2a" stroke="#2a2a2a" stroke-width="0.12">TLR3</text>
<ellipse cx="92.10" cy="522.10" rx="3.3" ry="1.8" fill="#e86060" stroke="#5a1512" stroke-width="0.55" transform="rotate(-22 92.10 522.10)"/>
<circle cx="94.00" cy="521.20" r="0.8" fill="#f08030" stroke="#5a1512" stroke-width="0.3"/>
<ellipse cx="85.30" cy="533.80" rx="2.6" ry="2.3" fill="#b9d6ee" stroke="#333" stroke-width="0.55"/>
<circle cx="87.30" cy="532.70" r="0.85" fill="#f08030" stroke="#5a1512" stroke-width="0.3"/>
<line x1="84.60" y1="517.50" x2="88.60" y2="520.70" stroke="#222" stroke-width="0.85" stroke-dasharray="1.8 1"/>
<line x1="93.70" y1="524.50" x2="92.40" y2="533.30" stroke="#222" stroke-width="0.85" stroke-dasharray="2 1.1"/>
<line x1="76.90" y1="528.00" x2="83.00" y2="532.30" stroke="#333" stroke-width="0.7"/>
<line x1="85.00" y1="537.00" x2="84.80" y2="541.00" stroke="#1a1a1a" stroke-width="0.8" stroke-dasharray="1.4 0.8"/>
<polygon points="84.70,543.00 83.92,540.96 85.68,541.05" fill="#1a1a1a"/>
<ellipse cx="90.30" cy="554.00" rx="23" ry="16.6" fill="#bababa" stroke="#6a6a6a" stroke-width="0.9"/>
<rect x="73.60" y="554.50" width="36.00" height="3.80" fill="#8a8a8a" stroke="#2a2a2a" stroke-width="0.7"/>
<path d="M88.6,554.5 V548.7 H94.6" fill="none" stroke="#1a1a1a" stroke-width="0.8"/>
<polygon points="96.8,548.7 94.3,547.5 94.3,549.9" fill="#1a1a1a"/>
<ellipse cx="75.60" cy="551.30" rx="2.5" ry="2.2" fill="#b9d6ee" stroke="#333" stroke-width="0.55"/>
<circle cx="77.50" cy="549.90" r="0.85" fill="#f08030" stroke="#5a1512" stroke-width="0.3"/>
<ellipse cx="83.70" cy="551.20" rx="3.2" ry="1.8" fill="#e86060" stroke="#5a1512" stroke-width="0.55" transform="rotate(-25 83.70 551.20)"/>
<circle cx="85.30" cy="550.20" r="0.7" fill="#f08030" stroke="#5a1512" stroke-width="0.3"/>
<line x1="90.80" y1="565.20" x2="90.80" y2="581.80" stroke="#1a1a1a" stroke-width="0.85"/>
<polygon points="90.80,584.60 89.57,581.80 92.03,581.80" fill="#1a1a1a"/>
<text x="39.60" y="577.30" font-size="6.3" fill="#2a2a2a" stroke="#2a2a2a" stroke-width="0.12">PBMCs</text>
<circle cx="84.90" cy="589.70" r="1.85" fill="#c2185b" stroke="#4a0a24" stroke-width="0.7"/>
<circle cx="94.00" cy="589.20" r="1.85" fill="#c2185b" stroke="#4a0a24" stroke-width="0.7"/>
<circle cx="79.80" cy="596.10" r="1.85" fill="#c2185b" stroke="#4a0a24" stroke-width="0.7"/>
<circle cx="87.50" cy="596.10" r="1.85" fill="#c2185b" stroke="#4a0a24" stroke-width="0.7"/>
<circle cx="94.70" cy="595.60" r="1.85" fill="#c2185b" stroke="#4a0a24" stroke-width="0.7"/>
<circle cx="82.40" cy="602.60" r="1.85" fill="#c2185b" stroke="#4a0a24" stroke-width="0.7"/>
<circle cx="91.40" cy="602.00" r="1.85" fill="#c2185b" stroke="#4a0a24" stroke-width="0.7"/>
<circle cx="101.20" cy="602.60" r="1.85" fill="#c2185b" stroke="#4a0a24" stroke-width="0.7"/>
<circle cx="86.70" cy="609.00" r="1.85" fill="#c2185b" stroke="#4a0a24" stroke-width="0.7"/>
<circle cx="96.00" cy="609.00" r="1.85" fill="#c2185b" stroke="#4a0a24" stroke-width="0.7"/>
<text x="90.60" y="619.80" font-size="6.3" text-anchor="middle" fill="#2a2a2a" stroke="#2a2a2a" stroke-width="0.12">IFNα, IFNβ</text>
<text transform="translate(138.30 492.80) scale(1.14 1)" font-size="12.6" font-weight="bold" fill="#000" stroke="#000" stroke-width="0.6">i</text>
<rect x="144.60" y="460.10" width="6.80" height="6.80" fill="#fff" stroke="#333" stroke-width="0.6"/>
<text x="156.50" y="466.00" font-size="7.4" fill="#262626" stroke="#262626" stroke-width="0.11" textLength="33.4" lengthAdjust="spacingAndGlyphs">Untreated</text>
<rect x="144.60" y="473.60" width="6.80" height="6.80" fill="#cd5f63" stroke="#333" stroke-width="0.6"/>
<text x="156.50" y="479.60" font-size="7.4" fill="#262626" stroke="#262626" stroke-width="0.11" textLength="10.7" lengthAdjust="spacingAndGlyphs">WT</text>
<rect x="202.40" y="460.10" width="6.80" height="6.80" fill="#d6c3e6" stroke="#333" stroke-width="0.6"/>
<text x="214.80" y="466.00" font-size="7.4" fill="#262626" stroke="#262626" stroke-width="0.11" textLength="20.1" lengthAdjust="spacingAndGlyphs">hm5C</text>
<rect x="202.40" y="473.60" width="6.80" height="6.80" fill="#8b68b3" stroke="#333" stroke-width="0.6"/>
<text x="214.80" y="479.60" font-size="7.4" fill="#262626" stroke="#262626" stroke-width="0.11" textLength="16.1" lengthAdjust="spacingAndGlyphs">m5C</text>
<rect x="247.20" y="460.10" width="6.80" height="6.80" fill="#2f6db5" stroke="#333" stroke-width="0.6"/>
<text x="259.30" y="466.00" font-size="7.4" fill="#262626" stroke="#262626" stroke-width="0.11" textLength="20.5" lengthAdjust="spacingAndGlyphs">N1mΨ</text>
<rect x="219.60" y="489.60" width="34.90" height="10.70" fill="#c2c2c2"/>
<text x="237.05" y="497.94" font-size="8.3" text-anchor="middle" fill="#ffffff" stroke="#ffffff" stroke-width="0.11">PBMC</text>
<line x1="175.40" y1="510.30" x2="175.40" y2="609.40" stroke="#222" stroke-width="0.7"/>
<line x1="175.40" y1="609.40" x2="297.50" y2="609.40" stroke="#222" stroke-width="0.7"/>
<line x1="172.20" y1="609.40" x2="175.40" y2="609.40" stroke="#222" stroke-width="0.6"/>
<text x="170.20" y="612.00" font-size="7.3" text-anchor="end" fill="#262626" stroke="#262626" stroke-width="0.11">0</text>
<line x1="172.20" y1="576.37" x2="175.40" y2="576.37" stroke="#222" stroke-width="0.6"/>
<text x="170.20" y="578.97" font-size="7.3" text-anchor="end" fill="#262626" stroke="#262626" stroke-width="0.11">50</text>
<line x1="172.20" y1="543.33" x2="175.40" y2="543.33" stroke="#222" stroke-width="0.6"/>
<text x="170.20" y="545.93" font-size="7.3" text-anchor="end" fill="#262626" stroke="#262626" stroke-width="0.11">100</text>
<line x1="172.20" y1="510.29" x2="175.40" y2="510.29" stroke="#222" stroke-width="0.6"/>
<text x="170.20" y="512.89" font-size="7.3" text-anchor="end" fill="#262626" stroke="#262626" stroke-width="0.11">150</text>
<text x="150.40" y="559.00" font-size="8.1" text-anchor="middle" fill="#262626" stroke="#262626" stroke-width="0.11" transform="rotate(-90 150.40 559.00)">IFNα (pg ml<tspan dy="-2.8" font-size="5.2">−1</tspan><tspan dy="2.8">)</tspan></text>
<text x="191.10" y="606.40" font-size="6.6" text-anchor="middle" fill="#262626" stroke="#262626" stroke-width="0.11">n.d.</text>
<text x="281.70" y="606.40" font-size="6.6" text-anchor="middle" fill="#262626" stroke="#262626" stroke-width="0.11">n.d.</text>
<rect x="207.50" y="549.20" width="16.10" height="60.20" fill="#cd5f63" stroke="#222" stroke-width="0.65"/>
<rect x="228.40" y="605.60" width="16.70" height="3.80" fill="#d6c3e6" stroke="#222" stroke-width="0.65"/>
<rect x="249.90" y="607.20" width="16.70" height="2.20" fill="#8b68b3" stroke="#222" stroke-width="0.65"/>
<line x1="215.60" y1="547.20" x2="215.60" y2="550.60" stroke="#111" stroke-width="0.65"/>
<line x1="213.20" y1="547.20" x2="218.00" y2="547.20" stroke="#111" stroke-width="0.65"/>
<line x1="213.20" y1="550.60" x2="218.00" y2="550.60" stroke="#111" stroke-width="0.65"/>
<circle cx="212.90" cy="546.50" r="1.35" fill="#111"/>
<circle cx="215.80" cy="549.40" r="1.35" fill="#111"/>
<circle cx="218.80" cy="547.90" r="1.35" fill="#111"/>
<line x1="237.00" y1="603.90" x2="237.00" y2="606.20" stroke="#111" stroke-width="0.65"/>
<line x1="234.60" y1="603.90" x2="239.40" y2="603.90" stroke="#111" stroke-width="0.65"/>
<line x1="234.60" y1="606.20" x2="239.40" y2="606.20" stroke="#111" stroke-width="0.65"/>
<circle cx="230.30" cy="605.60" r="1.3" fill="#111"/>
<circle cx="237.00" cy="604.30" r="1.3" fill="#111"/>
<circle cx="244.30" cy="605.10" r="1.3" fill="#111"/>
<circle cx="252.30" cy="607.30" r="1.25" fill="#111"/>
<circle cx="258.50" cy="606.60" r="1.25" fill="#111"/>
<circle cx="261.70" cy="607.20" r="1.25" fill="#111"/>
<circle cx="265.80" cy="607.30" r="1.25" fill="#111"/>
<path d="M215,519.9 V513.2 H258.5 V528.5" fill="none" stroke="#3a3a3a" stroke-width="0.65"/>
<text x="237.00" y="514.79" font-size="11.5" text-anchor="middle" fill="#222" stroke="#222" stroke-width="0.1" letter-spacing="0.2">****</text>
<path d="M215,539.3 V534.4 H235.2 V598.3" fill="none" stroke="#3a3a3a" stroke-width="0.65"/>
<text x="224.90" y="536.29" font-size="11.5" text-anchor="middle" fill="#222" stroke="#222" stroke-width="0.1" letter-spacing="0.2">****</text>
<path d="M238.9,598.3 V534.4 H258.5 V603.7" fill="none" stroke="#3a3a3a" stroke-width="0.65"/>
<text x="248.90" y="532.60" font-size="6.6" text-anchor="middle" fill="#262626" stroke="#262626" stroke-width="0.11">n.s.</text>
<text transform="translate(304.30 494.50) scale(1.14 1)" font-size="12.6" font-weight="bold" fill="#000" stroke="#000" stroke-width="0.6">j</text>
<rect x="372.30" y="460.10" width="6.80" height="6.80" fill="#fff" stroke="#333" stroke-width="0.6"/>
<text x="384.30" y="466.00" font-size="7.4" fill="#262626" stroke="#262626" stroke-width="0.11" textLength="33.4" lengthAdjust="spacingAndGlyphs">Untreated</text>
<rect x="372.30" y="473.60" width="6.80" height="6.80" fill="#cd5f63" stroke="#333" stroke-width="0.6"/>
<text x="384.30" y="479.60" font-size="7.4" fill="#262626" stroke="#262626" stroke-width="0.11" textLength="10.7" lengthAdjust="spacingAndGlyphs">WT</text>
<rect x="430.40" y="460.10" width="6.80" height="6.80" fill="#d6c3e6" stroke="#333" stroke-width="0.6"/>
<text x="442.30" y="466.00" font-size="7.4" fill="#262626" stroke="#262626" stroke-width="0.11" textLength="20.1" lengthAdjust="spacingAndGlyphs">hm5C</text>
<rect x="430.40" y="473.60" width="6.80" height="6.80" fill="#8b68b3" stroke="#333" stroke-width="0.6"/>
<text x="442.30" y="479.60" font-size="7.4" fill="#262626" stroke="#262626" stroke-width="0.11" textLength="16.1" lengthAdjust="spacingAndGlyphs">m5C</text>
<rect x="475.50" y="460.10" width="6.80" height="6.80" fill="#2f6db5" stroke="#333" stroke-width="0.6"/>
<text x="487.90" y="466.00" font-size="7.4" fill="#262626" stroke="#262626" stroke-width="0.11" textLength="20.5" lengthAdjust="spacingAndGlyphs">N1mΨ</text>
<rect x="427.90" y="488.80" width="37.20" height="11.40" fill="#c2c2c2"/>
<text x="446.50" y="497.49" font-size="8.3" text-anchor="middle" fill="#ffffff" stroke="#ffffff" stroke-width="0.11">PBMC</text>
<line x1="340.60" y1="502.50" x2="340.60" y2="608.20" stroke="#222" stroke-width="0.7"/>
<line x1="340.60" y1="608.20" x2="550.50" y2="608.20" stroke="#222" stroke-width="0.7"/>
<line x1="337.40" y1="608.20" x2="340.60" y2="608.20" stroke="#222" stroke-width="0.6"/>
<text x="335.60" y="610.80" font-size="7.3" text-anchor="end" fill="#262626" stroke="#262626" stroke-width="0.11">0</text>
<line x1="337.40" y1="593.10" x2="340.60" y2="593.10" stroke="#222" stroke-width="0.6"/>
<text x="335.60" y="595.70" font-size="7.3" text-anchor="end" fill="#262626" stroke="#262626" stroke-width="0.11">25</text>
<line x1="337.40" y1="562.90" x2="340.60" y2="562.90" stroke="#222" stroke-width="0.6"/>
<text x="335.60" y="565.50" font-size="7.3" text-anchor="end" fill="#262626" stroke="#262626" stroke-width="0.11">75</text>
<line x1="337.40" y1="532.70" x2="340.60" y2="532.70" stroke="#222" stroke-width="0.6"/>
<text x="335.60" y="535.30" font-size="7.3" text-anchor="end" fill="#262626" stroke="#262626" stroke-width="0.11">125</text>
<line x1="337.40" y1="502.50" x2="340.60" y2="502.50" stroke="#222" stroke-width="0.6"/>
<text x="335.60" y="505.10" font-size="7.3" text-anchor="end" fill="#262626" stroke="#262626" stroke-width="0.11">175</text>
<text x="318.00" y="555.40" font-size="8.1" text-anchor="middle" fill="#262626" stroke="#262626" stroke-width="0.11" transform="rotate(-90 318.00 555.40)">IFNβ (pg ml<tspan dy="-2.8" font-size="5.2">−1</tspan><tspan dy="2.8">)</tspan></text>
<text x="352.40" y="605.00" font-size="6.6" text-anchor="middle" fill="#262626" stroke="#262626" stroke-width="0.11">n.d.</text>
<text x="414.60" y="605.00" font-size="6.6" text-anchor="middle" fill="#262626" stroke="#262626" stroke-width="0.11">n.d.</text>
<text x="434.00" y="605.00" font-size="6.6" text-anchor="middle" fill="#262626" stroke="#262626" stroke-width="0.11">n.d.</text>
<text x="460.20" y="605.00" font-size="6.6" text-anchor="middle" fill="#262626" stroke="#262626" stroke-width="0.11">n.d.</text>
<text x="520.90" y="605.00" font-size="6.6" text-anchor="middle" fill="#262626" stroke="#262626" stroke-width="0.11">n.d.</text>
<text x="540.20" y="605.00" font-size="6.6" text-anchor="middle" fill="#262626" stroke="#262626" stroke-width="0.11">n.d.</text>
<rect x="368.30" y="587.90" width="14.40" height="20.30" fill="#cd5f63" stroke="#222" stroke-width="0.65"/>
<rect x="387.30" y="606.80" width="15.20" height="1.40" fill="#d6c3e6" stroke="#222" stroke-width="0.65"/>
<line x1="375.50" y1="561.70" x2="375.50" y2="606.00" stroke="#111" stroke-width="0.65"/>
<line x1="371.10" y1="561.70" x2="379.90" y2="561.70" stroke="#111" stroke-width="0.65"/>
<line x1="371.10" y1="606.00" x2="379.90" y2="606.00" stroke="#111" stroke-width="0.65"/>
<circle cx="375.50" cy="568.90" r="1.3" fill="#111"/>
<circle cx="375.50" cy="605.70" r="1.3" fill="#111"/>
<circle cx="394.90" cy="606.40" r="1.3" fill="#111"/>
<rect x="472.70" y="546.90" width="14.80" height="61.30" fill="#cd5f63" stroke="#222" stroke-width="0.65"/>
<rect x="492.00" y="603.80" width="14.80" height="4.40" fill="#d6c3e6" stroke="#222" stroke-width="0.65"/>
<line x1="480.10" y1="519.20" x2="480.10" y2="573.40" stroke="#111" stroke-width="0.65"/>
<line x1="475.70" y1="519.20" x2="484.50" y2="519.20" stroke="#111" stroke-width="0.65"/>
<line x1="475.70" y1="573.40" x2="484.50" y2="573.40" stroke="#111" stroke-width="0.65"/>
<circle cx="480.10" cy="517.30" r="1.3" fill="#111"/>
<circle cx="480.10" cy="550.70" r="1.3" fill="#111"/>
<circle cx="480.10" cy="571.50" r="1.3" fill="#111"/>
<circle cx="499.20" cy="603.00" r="1.3" fill="#111"/>
<text x="395.80" y="621.60" font-size="8.0" text-anchor="middle" fill="#262626" stroke="#262626" stroke-width="0.11">6 h</text>
<text x="499.80" y="621.60" font-size="8.0" text-anchor="middle" fill="#262626" stroke="#262626" stroke-width="0.11">24 h</text>
<text transform="translate(563.00 493.40) scale(1.14 1)" font-size="12.6" font-weight="bold" fill="#000" stroke="#000" stroke-width="0.6">k</text>
<line x1="602.20" y1="529.90" x2="602.20" y2="606.00" stroke="#222" stroke-width="0.7"/>
<line x1="602.20" y1="606.00" x2="685.00" y2="606.00" stroke="#222" stroke-width="0.7"/>
<line x1="599.00" y1="606.00" x2="602.20" y2="606.00" stroke="#222" stroke-width="0.6"/>
<text x="597.00" y="609.00" font-size="8.4" text-anchor="end" fill="#262626" stroke="#262626" stroke-width="0.11">0</text>
<line x1="599.00" y1="586.98" x2="602.20" y2="586.98" stroke="#222" stroke-width="0.6"/>
<text x="597.00" y="589.98" font-size="8.4" text-anchor="end" fill="#262626" stroke="#262626" stroke-width="0.11">5</text>
<line x1="599.00" y1="567.95" x2="602.20" y2="567.95" stroke="#222" stroke-width="0.6"/>
<text x="597.00" y="570.95" font-size="8.4" text-anchor="end" fill="#262626" stroke="#262626" stroke-width="0.11">10</text>
<line x1="599.00" y1="548.92" x2="602.20" y2="548.92" stroke="#222" stroke-width="0.6"/>
<text x="597.00" y="551.92" font-size="8.4" text-anchor="end" fill="#262626" stroke="#262626" stroke-width="0.11">15</text>
<line x1="599.00" y1="529.90" x2="602.20" y2="529.90" stroke="#222" stroke-width="0.6"/>
<text x="597.00" y="532.90" font-size="8.4" text-anchor="end" fill="#262626" stroke="#262626" stroke-width="0.11">20</text>
<text x="571.40" y="568.00" font-size="8.6" text-anchor="middle" fill="#262626" stroke="#262626" stroke-width="0.11" transform="rotate(-90 571.40 568.00)" textLength="66.3" lengthAdjust="spacingAndGlyphs">IFNβ1 expression</text>
<text x="581.60" y="568.30" font-size="8.6" text-anchor="middle" fill="#262626" stroke="#262626" stroke-width="0.11" transform="rotate(-90 581.60 568.30)" textLength="27.4" lengthAdjust="spacingAndGlyphs">(ΔΔCT)</text>
<rect x="607.15" y="602.80" width="9.30" height="3.20" fill="#ffffff" stroke="#222" stroke-width="0.65"/>
<line x1="611.80" y1="606.00" x2="611.80" y2="608.60" stroke="#222" stroke-width="0.6"/>
<text x="614.50" y="613.20" font-size="8.8" text-anchor="end" fill="#262626" stroke="#262626" stroke-width="0.11" transform="rotate(-45 614.50 613.20)">Mock</text>
<rect x="619.15" y="538.70" width="9.30" height="67.30" fill="#b34850" stroke="#222" stroke-width="0.65"/>
<line x1="623.80" y1="606.00" x2="623.80" y2="608.60" stroke="#222" stroke-width="0.6"/>
<text x="627.70" y="613.20" font-size="8.8" text-anchor="end" fill="#262626" stroke="#262626" stroke-width="0.11" transform="rotate(-45 627.70 613.20)">0%</text>
<rect x="631.35" y="574.00" width="9.30" height="32.00" fill="#b04a78" stroke="#222" stroke-width="0.65"/>
<line x1="636.00" y1="606.00" x2="636.00" y2="608.60" stroke="#222" stroke-width="0.6"/>
<text x="639.90" y="613.20" font-size="8.8" text-anchor="end" fill="#262626" stroke="#262626" stroke-width="0.11" transform="rotate(-45 639.90 613.20)">25%</text>
<rect x="643.65" y="582.00" width="9.30" height="24.00" fill="#a44d9c" stroke="#222" stroke-width="0.65"/>
<line x1="648.30" y1="606.00" x2="648.30" y2="608.60" stroke="#222" stroke-width="0.6"/>
<text x="652.10" y="613.20" font-size="8.8" text-anchor="end" fill="#262626" stroke="#262626" stroke-width="0.11" transform="rotate(-45 652.10 613.20)">50%</text>
<rect x="655.85" y="583.80" width="9.30" height="22.20" fill="#9b52d8" stroke="#222" stroke-width="0.65"/>
<line x1="660.50" y1="606.00" x2="660.50" y2="608.60" stroke="#222" stroke-width="0.6"/>
<text x="664.40" y="613.20" font-size="8.8" text-anchor="end" fill="#262626" stroke="#262626" stroke-width="0.11" transform="rotate(-45 664.40 613.20)">75%</text>
<rect x="668.15" y="598.40" width="9.30" height="7.60" fill="#8d4df0" stroke="#222" stroke-width="0.65"/>
<line x1="672.80" y1="606.00" x2="672.80" y2="608.60" stroke="#222" stroke-width="0.6"/>
<text x="677.40" y="613.20" font-size="8.8" text-anchor="end" fill="#262626" stroke="#262626" stroke-width="0.11" transform="rotate(-45 677.40 613.20)">100%</text>
<circle cx="608.37" cy="602.36" r="1.6" fill="#111"/>
<circle cx="611.79" cy="602.11" r="1.6" fill="#111"/>
<circle cx="615.22" cy="602.36" r="1.6" fill="#111"/>
<circle cx="620.61" cy="538.71" r="1.6" fill="#111"/>
<circle cx="624.28" cy="534.79" r="1.6" fill="#111"/>
<circle cx="627.71" cy="538.47" r="1.6" fill="#111"/>
<circle cx="633.34" cy="572.25" r="1.6" fill="#111"/>
<circle cx="636.52" cy="577.14" r="1.6" fill="#111"/>
<circle cx="639.94" cy="572.25" r="1.6" fill="#111"/>
<circle cx="645.09" cy="582.04" r="1.6" fill="#111"/>
<circle cx="648.51" cy="580.82" r="1.6" fill="#111"/>
<circle cx="651.70" cy="581.06" r="1.6" fill="#111"/>
<circle cx="657.33" cy="581.30" r="1.6" fill="#111"/>
<circle cx="660.75" cy="585.71" r="1.6" fill="#111"/>
<circle cx="664.42" cy="582.77" r="1.6" fill="#111"/>
<circle cx="669.57" cy="599.66" r="1.6" fill="#111"/>
<circle cx="673.24" cy="597.46" r="1.6" fill="#111"/>
<circle cx="676.18" cy="598.20" r="1.6" fill="#111"/>
<line x1="623.80" y1="536.20" x2="623.80" y2="541.20" stroke="#111" stroke-width="0.6"/>
<line x1="621.80" y1="536.20" x2="625.80" y2="536.20" stroke="#111" stroke-width="0.6"/>
<line x1="636.00" y1="571.00" x2="636.00" y2="577.00" stroke="#111" stroke-width="0.6"/>
<line x1="634.00" y1="571.00" x2="638.00" y2="571.00" stroke="#111" stroke-width="0.6"/>
<line x1="660.50" y1="581.20" x2="660.50" y2="586.40" stroke="#111" stroke-width="0.6"/>
<line x1="658.50" y1="581.20" x2="662.50" y2="581.20" stroke="#111" stroke-width="0.6"/>
<path d="M611.8,504.9 V493.4 H673 V593" fill="none" stroke="#3a3a3a" stroke-width="0.65"/>
<text x="642.30" y="491.50" font-size="6.6" text-anchor="middle" fill="#262626" stroke="#262626" stroke-width="0.11">n.s.</text>
<path d="M611.8,513.5 V509.3 H660.8 V579.6" fill="none" stroke="#3a3a3a" stroke-width="0.65"/>
<text x="636.50" y="510.29" font-size="11.5" text-anchor="middle" fill="#222" stroke="#222" stroke-width="0.1" letter-spacing="0.2">****</text>
<path d="M611.8,599.7 V525.7 H624.3 V528.9" fill="none" stroke="#3a3a3a" stroke-width="0.65"/>
<text x="618.10" y="527.99" font-size="11.5" text-anchor="middle" fill="#222" stroke="#222" stroke-width="0.1" letter-spacing="0.2">****</text>
</svg>
</body></html>
